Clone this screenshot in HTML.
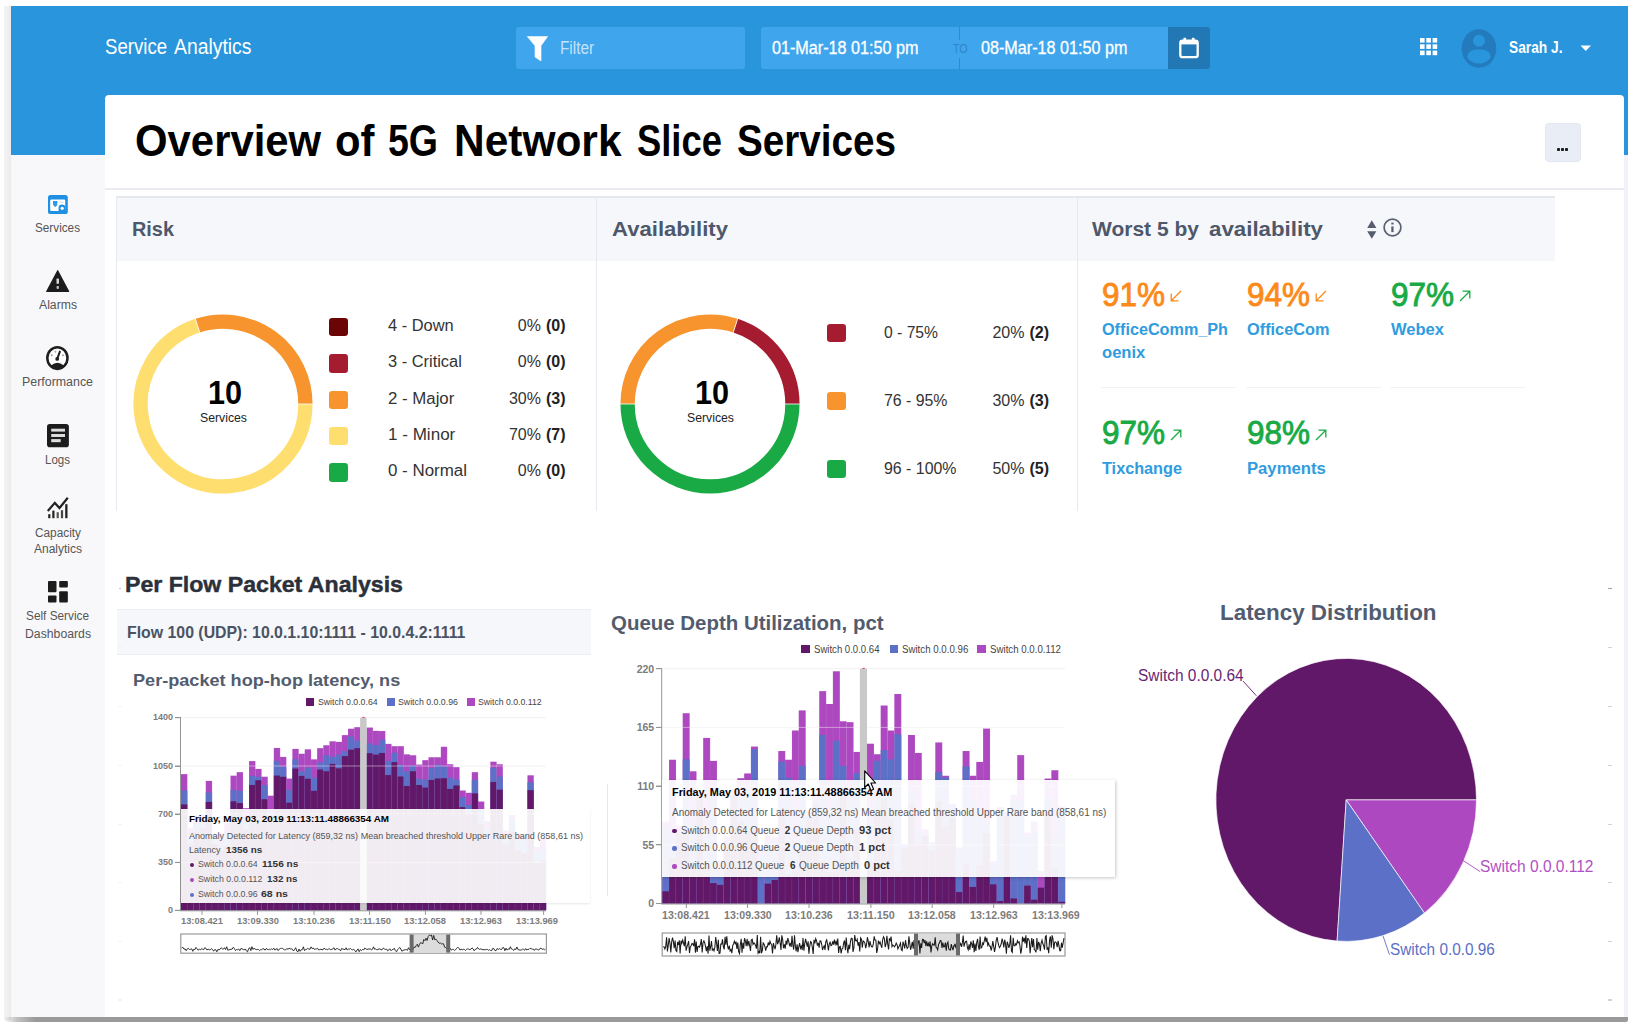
<!DOCTYPE html>
<html><head><meta charset="utf-8"><title>Service Analytics</title>
<style>
html,body{margin:0;padding:0;background:#fff;}
body{width:1638px;height:1030px;position:relative;overflow:hidden;font-family:"Liberation Sans",sans-serif;}
.t{position:absolute;white-space:nowrap;transform-origin:0 50%;}
.b{position:absolute;}
svg{position:absolute;overflow:visible;}
</style></head><body>
<div class="b" style="left:4.20px;top:6.00px;width:6.80px;height:1014.00px;background:linear-gradient(to right,#f3f3f3 0%,#f0f0f0 60%,#e9e9eb 100%);"></div>
<div class="b" style="left:11.00px;top:6.00px;width:1617.00px;height:148.50px;background:#2995dc;"></div>
<div class="b" style="left:11.00px;top:154.50px;width:94.00px;height:863.50px;background:#f8f8fa;"></div>
<div class="b" style="left:1624.00px;top:155.00px;width:4.00px;height:863.00px;background:#f3f2fa;"></div>
<div class="b" style="left:105.00px;top:95.00px;width:1519.00px;height:923.00px;background:#fff;border-radius:4px 4px 0 0;"></div>
<div class="b" style="left:5.00px;top:1017.30px;width:1623.00px;height:4.40px;background:linear-gradient(to right,rgba(154,154,154,0.08) 0px,rgba(154,154,154,0.6) 12px,#9a9a9a 30px);border-radius:0 0 2px 2px;"></div>
<div class="t" style="left:105.40px;top:37.30px;font-size:21.5px;line-height:21.5px;color:#fff;transform:scaleX(0.8661);">Service</div>
<div class="t" style="left:173.60px;top:37.30px;font-size:21.5px;line-height:21.5px;color:#fff;transform:scaleX(0.9000);">Analytics</div>
<div class="b" style="left:516.00px;top:27.00px;width:229.00px;height:42.00px;background:#3fa6ed;border-radius:3px;"></div>
<svg style="left:526.8px;top:36.4px" width="21" height="26" viewBox="0 0 21 26"><path d="M0.3 0.6 H20.6 L14 9.8 V25 L8 21 V9.8 Z" fill="#fff" stroke="#fff" stroke-width="0.6" stroke-linejoin="round"/></svg>
<div class="t" style="left:559.60px;top:39.99px;font-size:17.5px;line-height:17.5px;color:#c4e2f9;transform:scaleX(0.8752);">Filter</div>
<div class="b" style="left:761.00px;top:27.00px;width:407.00px;height:42.00px;background:#3fa6ed;border-radius:3px 0 0 3px;"></div>
<div class="b" style="left:1168.00px;top:27.00px;width:42.00px;height:42.00px;background:#2277b5;border-radius:0 3px 3px 0;"></div>
<div class="b" style="left:958.50px;top:27.00px;width:1.00px;height:13.00px;background:#2f8ad0;"></div>
<div class="b" style="left:958.50px;top:58.00px;width:1.00px;height:11.00px;background:#2f8ad0;"></div>
<div class="t" style="left:771.80px;top:39.69px;font-size:17.5px;line-height:17.5px;color:#fff;transform:scaleX(0.9240);-webkit-text-stroke:0.3px #fff;">01-Mar-18 01:50 pm</div>
<div class="t" style="left:952.60px;top:43.34px;font-size:12px;line-height:12px;color:#2e84c6;transform:scaleX(0.8881);">TO</div>
<div class="t" style="left:980.80px;top:39.69px;font-size:17.5px;line-height:17.5px;color:#fff;transform:scaleX(0.9240);-webkit-text-stroke:0.3px #fff;">08-Mar-18 01:50 pm</div>
<svg style="left:1179px;top:36.5px" width="20" height="22" viewBox="0 0 20 22"><rect x="1.3" y="3.6" width="17.4" height="16.6" rx="2.2" fill="none" stroke="#fff" stroke-width="2.3"/><rect x="1.3" y="3.2" width="17.4" height="4.2" fill="#fff"/><rect x="4.4" y="0.8" width="2.7" height="4" rx="0.6" fill="#fff"/><rect x="12.9" y="0.8" width="2.7" height="4" rx="0.6" fill="#fff"/></svg>
<svg style="left:1420px;top:37.6px" width="18" height="18" viewBox="0 0 18 18"><rect x="0.0" y="0.0" width="4.6" height="4.6" fill="#fff"/><rect x="6.3" y="0.0" width="4.6" height="4.6" fill="#fff"/><rect x="12.6" y="0.0" width="4.6" height="4.6" fill="#fff"/><rect x="0.0" y="6.3" width="4.6" height="4.6" fill="#fff"/><rect x="6.3" y="6.3" width="4.6" height="4.6" fill="#fff"/><rect x="12.6" y="6.3" width="4.6" height="4.6" fill="#fff"/><rect x="0.0" y="12.6" width="4.6" height="4.6" fill="#fff"/><rect x="6.3" y="12.6" width="4.6" height="4.6" fill="#fff"/><rect x="12.6" y="12.6" width="4.6" height="4.6" fill="#fff"/></svg>
<svg style="left:1461px;top:28.5px" width="36" height="39" viewBox="0 0 36 39"><ellipse cx="18" cy="19.5" rx="17.3" ry="19.3" fill="#237bbd"/><circle cx="18" cy="11.8" r="6" fill="#2995dc"/><path d="M6.3 28.5 C6.3 22 12 20.6 18 20.6 S29.7 22 29.7 28.5 C27 32.6 23 34.6 18 34.6 S9 32.6 6.3 28.5Z" fill="#2995dc"/></svg>
<div class="t" style="left:1509.30px;top:38.81px;font-size:17px;line-height:17px;color:#fff;font-weight:bold;transform:scaleX(0.8090);">Sarah J.</div>
<svg style="left:1580px;top:45px" width="12" height="7" viewBox="0 0 12 7"><path d="M0.5 0.5 H11 L5.75 6Z" fill="#fff"/></svg>
<div class="t" style="left:135.30px;top:119.35px;font-size:44px;line-height:44px;color:#000;font-weight:bold;transform:scaleX(0.9515);">Overview</div>
<div class="t" style="left:334.50px;top:119.35px;font-size:44px;line-height:44px;color:#000;font-weight:bold;transform:scaleX(0.9500);">of</div>
<div class="t" style="left:387.50px;top:119.35px;font-size:44px;line-height:44px;color:#000;font-weight:bold;transform:scaleX(0.8529);">5G</div>
<div class="t" style="left:454.00px;top:119.35px;font-size:44px;line-height:44px;color:#000;font-weight:bold;transform:scaleX(0.9649);">Network</div>
<div class="t" style="left:637.00px;top:119.35px;font-size:44px;line-height:44px;color:#000;font-weight:bold;transform:scaleX(0.8264);">Slice</div>
<div class="t" style="left:736.60px;top:119.35px;font-size:44px;line-height:44px;color:#000;font-weight:bold;transform:scaleX(0.8787);">Services</div>
<div class="b" style="left:1544.80px;top:122.70px;width:35.80px;height:39.00px;background:#e9edf6;border-radius:4.5px;box-shadow:0 0 0 1px #e3e7f1 inset;"></div>
<div class="b" style="left:1556.90px;top:148.30px;width:3.10px;height:3.20px;background:#1c1c1c;border-radius:0.8px;"></div>
<div class="b" style="left:1561.10px;top:148.30px;width:3.10px;height:3.20px;background:#1c1c1c;border-radius:0.8px;"></div>
<div class="b" style="left:1565.30px;top:148.30px;width:3.10px;height:3.20px;background:#1c1c1c;border-radius:0.8px;"></div>
<div class="b" style="left:105.00px;top:188.00px;width:1519.00px;height:1.50px;background:#e9ebf1;"></div>
<svg style="left:47.9px;top:194.6px" width="19.8" height="19" viewBox="0 0 19.8 19"><rect x="0" y="0" width="19.8" height="19" rx="2.6" fill="#2090e2"/><rect x="2.2" y="4.4" width="15" height="11.6" rx="1" fill="#fff"/><path d="M5 6 H9.4 V9 Q9.4 11.2 7.2 12 Q5 11.2 5 9Z" fill="#2f9be6"/><rect x="10.8" y="6.6" width="5" height="1.4" fill="#d6eafa"/><path d="M10.6 16.2 V13 Q10.6 9.6 14 9.6 Q17.4 9.6 17.4 13 V16.2Z" fill="#2090e2"/><circle cx="14.2" cy="13.3" r="1.6" fill="#fff"/></svg>
<div class="t" style="left:35.00px;top:221.62px;font-size:12.5px;line-height:12.5px;color:#555;transform:scaleX(0.9387);">Services</div>
<svg style="left:46px;top:269.8px" width="23.4" height="22.2" viewBox="0 0 23.4 22.2"><path d="M11.7 0.7 L22.7 21.5 H0.7 Z" fill="#1c1c1c" stroke="#1c1c1c" stroke-width="1.2" stroke-linejoin="round"/><rect x="10.5" y="8.6" width="2.5" height="5.2" rx="0.6" fill="#d8d8d8"/><rect x="10.5" y="16" width="2.5" height="2.9" rx="0.8" fill="#bdbdbd"/></svg>
<div class="t" style="left:38.50px;top:299.12px;font-size:12.5px;line-height:12.5px;color:#555;transform:scaleX(0.9775);">Alarms</div>
<svg style="left:46.2px;top:346.4px" width="22.8" height="24.2" viewBox="0 0 22.8 24.2"><ellipse cx="11.4" cy="12.1" rx="10.1" ry="10.8" fill="#fff" stroke="#1e1e1e" stroke-width="2.5"/><path d="M2.6 17.5 Q3.6 19.6 5 19.4 Q11.4 14.2 17.8 19.4 Q19.2 19.6 20.2 17.5 Q17.5 23.4 11.4 23.4 Q5.3 23.4 2.6 17.5Z" fill="#1e1e1e"/><path d="M11.3 12.6 L13.9 5.6" stroke="#1e1e1e" stroke-width="2" stroke-linecap="round"/><circle cx="11.2" cy="12.9" r="1.9" fill="#1e1e1e"/><circle cx="5.8" cy="9.2" r="0.95" fill="#999"/><circle cx="9.4" cy="5.7" r="0.95" fill="#aaa"/><circle cx="17" cy="9.2" r="0.95" fill="#999"/></svg>
<div class="t" style="left:22.00px;top:376.42px;font-size:12.5px;line-height:12.5px;color:#555;transform:scaleX(0.9921);">Performance</div>
<svg style="left:46.7px;top:424.3px" width="21.9" height="23.3" viewBox="0 0 21.9 23.3"><rect x="0" y="0" width="21.9" height="23.3" rx="2.8" fill="#1c1c1c"/><rect x="4.2" y="4.7" width="13.8" height="2.9" fill="#dcdcdc"/><rect x="4.2" y="10" width="13.8" height="3" fill="#dcdcdc"/><rect x="4.2" y="15.1" width="9.5" height="3.1" fill="#dcdcdc"/></svg>
<div class="t" style="left:45.00px;top:454.12px;font-size:12.5px;line-height:12.5px;color:#555;transform:scaleX(0.9217);">Logs</div>
<svg style="left:47px;top:497px" width="22" height="22" viewBox="0 0 22 22"><path d="M0.8 14 L7.8 5.9 L12.5 11 L20.8 0.8" fill="none" stroke="#222" stroke-width="2.2" stroke-linejoin="miter"/><rect x="1.2" y="17.2" width="2.2" height="4" fill="#222"/><rect x="5.3" y="13.6" width="2.2" height="7.6" fill="#222"/><rect x="9.6" y="15.2" width="2.2" height="6" fill="#555"/><rect x="13.9" y="13.2" width="2.2" height="8" fill="#444"/><rect x="18.2" y="7.2" width="2.3" height="14" fill="#222"/></svg>
<div class="t" style="left:34.50px;top:526.52px;font-size:12.5px;line-height:12.5px;color:#555;transform:scaleX(0.9460);">Capacity</div>
<div class="t" style="left:33.50px;top:543.12px;font-size:12.5px;line-height:12.5px;color:#555;transform:scaleX(0.9600);">Analytics</div>
<svg style="left:47.9px;top:581.3px" width="19.9" height="21.4" viewBox="0 0 19.9 21.4"><rect x="0" y="0" width="8.5" height="11.2" rx="0.9" fill="#1c1c1c"/><rect x="11.2" y="0" width="8.65" height="6.4" rx="0.9" fill="#1c1c1c"/><rect x="0" y="14.4" width="8.5" height="7" rx="0.9" fill="#1c1c1c"/><rect x="11.2" y="10.3" width="8.65" height="11.1" rx="0.9" fill="#1c1c1c"/></svg>
<div class="t" style="left:26.00px;top:610.42px;font-size:12.5px;line-height:12.5px;color:#555;transform:scaleX(0.9447);">Self Service</div>
<div class="t" style="left:24.50px;top:627.92px;font-size:12.5px;line-height:12.5px;color:#555;transform:scaleX(0.9796);">Dashboards</div>
<div class="b" style="left:116.00px;top:196.50px;width:1439.00px;height:64.10px;background:#f5f7fa;"></div>
<div class="b" style="left:116.00px;top:196.20px;width:1439.00px;height:1.50px;background:#e5e8ee;"></div>
<div class="b" style="left:115.50px;top:196.50px;width:1.00px;height:314.50px;background:#e6e9f0;"></div>
<div class="b" style="left:595.50px;top:196.50px;width:1.00px;height:314.50px;background:#e6e9f0;"></div>
<div class="b" style="left:1076.50px;top:196.50px;width:1.00px;height:314.50px;background:#e6e9f0;"></div>
<div class="t" style="left:131.50px;top:218.42px;font-size:21px;line-height:21px;color:#4e586a;font-weight:bold;transform:scaleX(0.9456);">Risk</div>
<div class="t" style="left:611.50px;top:218.42px;font-size:21px;line-height:21px;color:#4e586a;font-weight:bold;transform:scaleX(1.0532);">Availability</div>
<div class="t" style="left:1092.00px;top:218.42px;font-size:21px;line-height:21px;color:#4e586a;font-weight:bold;">Worst 5 by</div>
<div class="t" style="left:1209.00px;top:218.42px;font-size:21px;line-height:21px;color:#4e586a;font-weight:bold;transform:scaleX(1.0613);">availability</div>
<svg style="left:1366.8px;top:220px" width="10" height="19" viewBox="0 0 10 19"><path d="M4.8 0.3 L9.4 7.9 H0.2Z M4.8 18.7 L9.4 11.2 H0.2Z" fill="#555d6e"/></svg>
<svg style="left:1383px;top:218px" width="19" height="19" viewBox="0 0 19 19"><circle cx="9.5" cy="9.5" r="8.4" fill="none" stroke="#5a6172" stroke-width="1.7"/><rect x="8.3" y="8.4" width="2.3" height="5.7" fill="#5a6172"/><rect x="8.3" y="4.6" width="2.3" height="1.9" fill="#5a6172"/></svg>
<svg style="left:0;top:0" width="1638" height="1030"><path d="M197.54 325.63 A82.4 82.4 0 0 1 305.40 404.00" fill="none" stroke="#f7942e" stroke-width="14.3"/><path d="M305.40 404.00 A82.4 82.4 0 1 1 197.54 325.63" fill="none" stroke="#fede6e" stroke-width="14.3"/><line x1="200.01" y1="333.24" x2="195.06" y2="318.02" stroke="#fff" stroke-width="0.8"/><line x1="297.40" y1="404.00" x2="313.40" y2="404.00" stroke="#fff" stroke-width="0.8"/></svg>
<div class="t" style="left:207.50px;top:375.57px;font-size:33px;line-height:33px;color:#000;font-weight:bold;transform:scaleX(0.9282);">10</div>
<div class="t" style="left:200.30px;top:410.50px;font-size:13px;line-height:13px;color:#222;transform:scaleX(0.9427);">Services</div>
<svg style="left:0;top:0" width="1638" height="1030"><path d="M735.46 325.63 A82.4 82.4 0 0 1 792.40 404.00" fill="none" stroke="#a51c30" stroke-width="14.3"/><path d="M627.60 404.00 A82.4 82.4 0 0 1 735.46 325.63" fill="none" stroke="#f7942e" stroke-width="14.3"/><path d="M792.40 404.00 A82.4 82.4 0 0 1 627.60 404.00" fill="none" stroke="#1aaa45" stroke-width="14.3"/><line x1="732.99" y1="333.24" x2="737.94" y2="318.02" stroke="#fff" stroke-width="0.8"/><line x1="635.60" y1="404.00" x2="619.60" y2="404.00" stroke="#fff" stroke-width="0.8"/><line x1="784.40" y1="404.00" x2="800.40" y2="404.00" stroke="#fff" stroke-width="0.8"/></svg>
<div class="t" style="left:694.50px;top:375.57px;font-size:33px;line-height:33px;color:#000;font-weight:bold;transform:scaleX(0.9282);">10</div>
<div class="t" style="left:687.30px;top:410.50px;font-size:13px;line-height:13px;color:#222;transform:scaleX(0.9427);">Services</div>
<div class="b" style="left:329.10px;top:317.80px;width:18.50px;height:18.50px;background:#6b0505;border-radius:3.2px;"></div>
<div class="t" style="left:387.50px;top:317.96px;font-size:16px;line-height:16px;color:#333;transform:scaleX(1.0250);">4 - Down</div>
<div class="t" style="left:545.94px;top:317.96px;font-size:16px;line-height:16px;color:#222;font-weight:bold;">(0)</div>
<div class="t" style="left:517.82px;top:317.96px;font-size:16px;line-height:16px;color:#333;">0%</div>
<div class="b" style="left:329.10px;top:354.30px;width:18.50px;height:18.50px;background:#a51c30;border-radius:3.2px;"></div>
<div class="t" style="left:387.50px;top:354.46px;font-size:16px;line-height:16px;color:#333;transform:scaleX(1.0250);">3 - Critical</div>
<div class="t" style="left:545.94px;top:354.46px;font-size:16px;line-height:16px;color:#222;font-weight:bold;">(0)</div>
<div class="t" style="left:517.82px;top:354.46px;font-size:16px;line-height:16px;color:#333;">0%</div>
<div class="b" style="left:329.10px;top:390.80px;width:18.50px;height:18.50px;background:#f7942e;border-radius:3.2px;"></div>
<div class="t" style="left:387.50px;top:390.96px;font-size:16px;line-height:16px;color:#333;transform:scaleX(1.0504);">2 - Major</div>
<div class="t" style="left:545.94px;top:390.96px;font-size:16px;line-height:16px;color:#222;font-weight:bold;">(3)</div>
<div class="t" style="left:508.92px;top:390.96px;font-size:16px;line-height:16px;color:#333;">30%</div>
<div class="b" style="left:329.10px;top:426.80px;width:18.50px;height:18.50px;background:#fede6e;border-radius:3.2px;"></div>
<div class="t" style="left:387.50px;top:426.96px;font-size:16px;line-height:16px;color:#333;transform:scaleX(1.0662);">1 - Minor</div>
<div class="t" style="left:545.94px;top:426.96px;font-size:16px;line-height:16px;color:#222;font-weight:bold;">(7)</div>
<div class="t" style="left:508.92px;top:426.96px;font-size:16px;line-height:16px;color:#333;">70%</div>
<div class="b" style="left:329.10px;top:463.30px;width:18.50px;height:18.50px;background:#1aaa45;border-radius:3.2px;"></div>
<div class="t" style="left:387.50px;top:463.46px;font-size:16px;line-height:16px;color:#333;transform:scaleX(1.0573);">0 - Normal</div>
<div class="t" style="left:545.94px;top:463.46px;font-size:16px;line-height:16px;color:#222;font-weight:bold;">(0)</div>
<div class="t" style="left:517.82px;top:463.46px;font-size:16px;line-height:16px;color:#333;">0%</div>
<div class="b" style="left:827.20px;top:323.80px;width:18.50px;height:18.50px;background:#a51c30;border-radius:3.2px;"></div>
<div class="t" style="left:883.50px;top:325.26px;font-size:16px;line-height:16px;color:#333;transform:scaleX(0.9797);">0 - 75%</div>
<div class="t" style="left:1029.44px;top:325.26px;font-size:16px;line-height:16px;color:#222;font-weight:bold;">(2)</div>
<div class="t" style="left:992.42px;top:325.26px;font-size:16px;line-height:16px;color:#333;">20%</div>
<div class="b" style="left:827.20px;top:391.80px;width:18.50px;height:18.50px;background:#f7942e;border-radius:3.2px;"></div>
<div class="t" style="left:883.50px;top:393.26px;font-size:16px;line-height:16px;color:#333;transform:scaleX(0.9909);">76 - 95%</div>
<div class="t" style="left:1029.44px;top:393.26px;font-size:16px;line-height:16px;color:#222;font-weight:bold;">(3)</div>
<div class="t" style="left:992.42px;top:393.26px;font-size:16px;line-height:16px;color:#333;">30%</div>
<div class="b" style="left:827.20px;top:459.80px;width:18.50px;height:18.50px;background:#1aaa45;border-radius:3.2px;"></div>
<div class="t" style="left:883.50px;top:461.26px;font-size:16px;line-height:16px;color:#333;transform:scaleX(0.9937);">96 - 100%</div>
<div class="t" style="left:1029.44px;top:461.26px;font-size:16px;line-height:16px;color:#222;font-weight:bold;">(5)</div>
<div class="t" style="left:992.42px;top:461.26px;font-size:16px;line-height:16px;color:#333;">50%</div>
<div class="t" style="left:1101.80px;top:277.67px;font-size:33px;line-height:33px;color:#fb8a1a;transform:scaleX(0.9545);-webkit-text-stroke:0.9px #fb8a1a;">91%</div>
<svg style="left:1169.8px;top:290.1px" width="12" height="12" viewBox="0 0 12 12"><path d="M11 1 L1.5 10.5 M1.2 3.5 V10.8 H8.5" fill="none" stroke="#fb8a1a" stroke-width="1.3"/></svg>
<div class="t" style="left:1101.80px;top:322.46px;font-size:16px;line-height:16px;color:#2f9ce0;font-weight:bold;transform:scaleX(1.0122);">OfficeComm_Ph</div>
<div class="t" style="left:1101.80px;top:345.46px;font-size:16px;line-height:16px;color:#2f9ce0;font-weight:bold;transform:scaleX(1.0369);">oenix</div>
<div class="t" style="left:1246.50px;top:277.67px;font-size:33px;line-height:33px;color:#fb8a1a;transform:scaleX(0.9545);-webkit-text-stroke:0.9px #fb8a1a;">94%</div>
<svg style="left:1314.5px;top:290.1px" width="12" height="12" viewBox="0 0 12 12"><path d="M11 1 L1.5 10.5 M1.2 3.5 V10.8 H8.5" fill="none" stroke="#fb8a1a" stroke-width="1.3"/></svg>
<div class="t" style="left:1246.50px;top:322.46px;font-size:16px;line-height:16px;color:#2f9ce0;font-weight:bold;transform:scaleX(1.0200);">OfficeCom</div>
<div class="t" style="left:1390.80px;top:277.67px;font-size:33px;line-height:33px;color:#1aaa45;transform:scaleX(0.9545);-webkit-text-stroke:0.9px #1aaa45;">97%</div>
<svg style="left:1458.8px;top:290.1px" width="12" height="12" viewBox="0 0 12 12"><path d="M1 11 L10.5 1.5 M3.5 1.2 H10.8 V8.5" fill="none" stroke="#1aaa45" stroke-width="1.3"/></svg>
<div class="t" style="left:1390.80px;top:322.46px;font-size:16px;line-height:16px;color:#2f9ce0;font-weight:bold;transform:scaleX(1.0335);">Webex</div>
<div class="t" style="left:1101.80px;top:416.17px;font-size:33px;line-height:33px;color:#1aaa45;transform:scaleX(0.9545);-webkit-text-stroke:0.9px #1aaa45;">97%</div>
<svg style="left:1169.8px;top:428.6px" width="12" height="12" viewBox="0 0 12 12"><path d="M1 11 L10.5 1.5 M3.5 1.2 H10.8 V8.5" fill="none" stroke="#1aaa45" stroke-width="1.3"/></svg>
<div class="t" style="left:1101.80px;top:460.96px;font-size:16px;line-height:16px;color:#2f9ce0;font-weight:bold;transform:scaleX(1.0142);">Tixchange</div>
<div class="t" style="left:1246.50px;top:416.17px;font-size:33px;line-height:33px;color:#1aaa45;transform:scaleX(0.9545);-webkit-text-stroke:0.9px #1aaa45;">98%</div>
<svg style="left:1314.5px;top:428.6px" width="12" height="12" viewBox="0 0 12 12"><path d="M1 11 L10.5 1.5 M3.5 1.2 H10.8 V8.5" fill="none" stroke="#1aaa45" stroke-width="1.3"/></svg>
<div class="t" style="left:1246.50px;top:460.96px;font-size:16px;line-height:16px;color:#2f9ce0;font-weight:bold;transform:scaleX(1.0410);">Payments</div>
<div class="b" style="left:1101.00px;top:386.50px;width:135.00px;height:1.00px;background:#f2f3f6;"></div>
<div class="b" style="left:1246.00px;top:386.50px;width:135.00px;height:1.00px;background:#f2f3f6;"></div>
<div class="b" style="left:1390.00px;top:386.50px;width:135.00px;height:1.00px;background:#f2f3f6;"></div>
<div class="t" style="left:125.30px;top:573.72px;font-size:22.3px;line-height:22.3px;color:#2b303b;font-weight:bold;transform:scaleX(1.0367);-webkit-text-stroke:0.45px #2b303b;">Per Flow Packet Analysis</div>
<div class="b" style="left:117.00px;top:609.00px;width:473.50px;height:45.50px;background:#f5f7fa;"></div>
<div class="b" style="left:117.00px;top:609.00px;width:473.50px;height:1.00px;background:#eceef3;"></div>
<div class="b" style="left:117.00px;top:654.00px;width:473.50px;height:1.00px;background:#eceef3;"></div>
<div class="t" style="left:127.30px;top:623.91px;font-size:17px;line-height:17px;color:#4a5363;font-weight:bold;transform:scaleX(0.9326);">Flow 100 (UDP): 10.0.1.10:1111 - 10.0.4.2:1111</div>
<div class="t" style="left:133.40px;top:671.56px;font-size:17.3px;line-height:17.3px;color:#525c6e;font-weight:bold;transform:scaleX(1.0476);">Per-packet hop-hop latency, ns</div>
<div class="t" style="left:610.60px;top:612.77px;font-size:20px;line-height:20px;color:#525c6e;font-weight:bold;transform:scaleX(1.0221);">Queue Depth Utilization, pct</div>
<div class="t" style="left:1220.00px;top:601.58px;font-size:22px;line-height:22px;color:#525c6e;font-weight:bold;transform:scaleX(1.0181);">Latency Distribution</div>
<svg style="left:0;top:0" width="1638" height="1030"><line x1="181" y1="717.70" x2="546" y2="717.70" stroke="#f0f0f0" stroke-width="1"/><line x1="181" y1="766.00" x2="546" y2="766.00" stroke="#f0f0f0" stroke-width="1"/><line x1="181" y1="814.00" x2="546" y2="814.00" stroke="#f0f0f0" stroke-width="1"/><line x1="181" y1="862.40" x2="546" y2="862.40" stroke="#f0f0f0" stroke-width="1"/><rect x="181.00" y="774.15" width="6.34" height="136.15" fill="#ad48c0"/><rect x="181.00" y="790.46" width="6.34" height="119.84" fill="#5b70c6"/><rect x="181.00" y="804.44" width="6.34" height="105.86" fill="#611868"/><rect x="187.19" y="828.19" width="6.34" height="82.11" fill="#ad48c0"/><rect x="187.19" y="833.40" width="6.34" height="76.90" fill="#5b70c6"/><rect x="187.19" y="844.26" width="6.34" height="66.04" fill="#611868"/><rect x="193.37" y="815.62" width="6.34" height="94.68" fill="#ad48c0"/><rect x="193.37" y="823.91" width="6.34" height="86.39" fill="#5b70c6"/><rect x="193.37" y="832.20" width="6.34" height="78.10" fill="#611868"/><rect x="199.56" y="814.90" width="6.34" height="95.40" fill="#ad48c0"/><rect x="199.56" y="822.96" width="6.34" height="87.34" fill="#5b70c6"/><rect x="199.56" y="828.30" width="6.34" height="82.00" fill="#611868"/><rect x="205.75" y="780.91" width="6.34" height="129.39" fill="#ad48c0"/><rect x="205.75" y="792.56" width="6.34" height="117.74" fill="#5b70c6"/><rect x="205.75" y="801.88" width="6.34" height="108.42" fill="#611868"/><rect x="211.93" y="833.68" width="6.34" height="76.62" fill="#ad48c0"/><rect x="211.93" y="838.24" width="6.34" height="72.06" fill="#5b70c6"/><rect x="211.93" y="844.06" width="6.34" height="66.24" fill="#611868"/><rect x="218.12" y="833.23" width="6.34" height="77.07" fill="#ad48c0"/><rect x="218.12" y="843.84" width="6.34" height="66.46" fill="#5b70c6"/><rect x="218.12" y="849.95" width="6.34" height="60.35" fill="#611868"/><rect x="224.31" y="823.16" width="6.34" height="87.14" fill="#ad48c0"/><rect x="224.31" y="832.18" width="6.34" height="78.12" fill="#5b70c6"/><rect x="224.31" y="845.71" width="6.34" height="64.59" fill="#611868"/><rect x="230.49" y="775.66" width="6.34" height="134.64" fill="#ad48c0"/><rect x="230.49" y="789.88" width="6.34" height="120.42" fill="#5b70c6"/><rect x="230.49" y="801.29" width="6.34" height="109.01" fill="#611868"/><rect x="236.68" y="772.17" width="6.34" height="138.13" fill="#ad48c0"/><rect x="236.68" y="790.81" width="6.34" height="119.49" fill="#5b70c6"/><rect x="236.68" y="803.04" width="6.34" height="107.26" fill="#611868"/><rect x="242.86" y="808.17" width="6.34" height="102.13" fill="#ad48c0"/><rect x="242.86" y="818.78" width="6.34" height="91.52" fill="#5b70c6"/><rect x="242.86" y="829.96" width="6.34" height="80.34" fill="#611868"/><rect x="249.05" y="761.10" width="6.34" height="149.20" fill="#ad48c0"/><rect x="249.05" y="775.90" width="6.34" height="134.40" fill="#5b70c6"/><rect x="249.05" y="784.98" width="6.34" height="125.32" fill="#611868"/><rect x="255.24" y="768.91" width="6.34" height="141.39" fill="#ad48c0"/><rect x="255.24" y="776.83" width="6.34" height="133.47" fill="#5b70c6"/><rect x="255.24" y="780.21" width="6.34" height="130.09" fill="#611868"/><rect x="261.42" y="776.71" width="6.34" height="133.59" fill="#ad48c0"/><rect x="261.42" y="785.22" width="6.34" height="125.08" fill="#5b70c6"/><rect x="261.42" y="799.20" width="6.34" height="111.10" fill="#611868"/><rect x="267.61" y="795.70" width="6.34" height="114.60" fill="#ad48c0"/><rect x="267.61" y="809.51" width="6.34" height="100.79" fill="#5b70c6"/><rect x="267.61" y="817.88" width="6.34" height="92.42" fill="#611868"/><rect x="273.80" y="747.94" width="6.34" height="162.36" fill="#ad48c0"/><rect x="273.80" y="760.99" width="6.34" height="149.31" fill="#5b70c6"/><rect x="273.80" y="775.55" width="6.34" height="134.75" fill="#611868"/><rect x="279.98" y="756.91" width="6.34" height="153.39" fill="#ad48c0"/><rect x="279.98" y="766.58" width="6.34" height="143.72" fill="#5b70c6"/><rect x="279.98" y="776.83" width="6.34" height="133.47" fill="#611868"/><rect x="286.17" y="778.58" width="6.34" height="131.72" fill="#ad48c0"/><rect x="286.17" y="789.88" width="6.34" height="120.42" fill="#5b70c6"/><rect x="286.17" y="802.69" width="6.34" height="107.61" fill="#611868"/><rect x="292.36" y="748.87" width="6.34" height="161.43" fill="#ad48c0"/><rect x="292.36" y="759.36" width="6.34" height="150.94" fill="#5b70c6"/><rect x="292.36" y="768.56" width="6.34" height="141.74" fill="#611868"/><rect x="298.54" y="753.76" width="6.34" height="156.54" fill="#ad48c0"/><rect x="298.54" y="771.24" width="6.34" height="139.06" fill="#5b70c6"/><rect x="298.54" y="775.90" width="6.34" height="134.40" fill="#611868"/><rect x="304.73" y="749.34" width="6.34" height="160.96" fill="#ad48c0"/><rect x="304.73" y="767.51" width="6.34" height="142.79" fill="#5b70c6"/><rect x="304.73" y="778.81" width="6.34" height="131.49" fill="#611868"/><rect x="310.92" y="759.36" width="6.34" height="150.94" fill="#ad48c0"/><rect x="310.92" y="777.64" width="6.34" height="132.66" fill="#5b70c6"/><rect x="310.92" y="790.81" width="6.34" height="119.49" fill="#611868"/><rect x="317.10" y="748.17" width="6.34" height="162.13" fill="#ad48c0"/><rect x="317.10" y="762.50" width="6.34" height="147.80" fill="#5b70c6"/><rect x="317.10" y="769.49" width="6.34" height="140.81" fill="#611868"/><rect x="323.29" y="745.26" width="6.34" height="165.04" fill="#ad48c0"/><rect x="323.29" y="755.16" width="6.34" height="155.14" fill="#5b70c6"/><rect x="323.29" y="771.24" width="6.34" height="139.06" fill="#611868"/><rect x="329.47" y="741.30" width="6.34" height="169.00" fill="#ad48c0"/><rect x="329.47" y="756.91" width="6.34" height="153.39" fill="#5b70c6"/><rect x="329.47" y="763.90" width="6.34" height="146.40" fill="#611868"/><rect x="335.66" y="741.88" width="6.34" height="168.42" fill="#ad48c0"/><rect x="335.66" y="754.58" width="6.34" height="155.72" fill="#5b70c6"/><rect x="335.66" y="768.33" width="6.34" height="141.97" fill="#611868"/><rect x="341.85" y="735.12" width="6.34" height="175.18" fill="#ad48c0"/><rect x="341.85" y="751.20" width="6.34" height="159.10" fill="#5b70c6"/><rect x="341.85" y="756.09" width="6.34" height="154.21" fill="#611868"/><rect x="348.03" y="728.72" width="6.34" height="181.58" fill="#ad48c0"/><rect x="348.03" y="736.52" width="6.34" height="173.78" fill="#5b70c6"/><rect x="348.03" y="749.69" width="6.34" height="160.61" fill="#611868"/><rect x="354.22" y="727.20" width="6.34" height="183.10" fill="#ad48c0"/><rect x="354.22" y="740.60" width="6.34" height="169.70" fill="#5b70c6"/><rect x="354.22" y="748.17" width="6.34" height="162.13" fill="#611868"/><rect x="366.59" y="727.55" width="6.34" height="182.75" fill="#ad48c0"/><rect x="366.59" y="743.51" width="6.34" height="166.79" fill="#5b70c6"/><rect x="366.59" y="753.18" width="6.34" height="157.12" fill="#611868"/><rect x="372.78" y="730.81" width="6.34" height="179.49" fill="#ad48c0"/><rect x="372.78" y="745.03" width="6.34" height="165.27" fill="#5b70c6"/><rect x="372.78" y="754.58" width="6.34" height="155.72" fill="#611868"/><rect x="378.97" y="731.05" width="6.34" height="179.25" fill="#ad48c0"/><rect x="378.97" y="739.78" width="6.34" height="170.52" fill="#5b70c6"/><rect x="378.97" y="752.95" width="6.34" height="157.35" fill="#611868"/><rect x="385.15" y="743.86" width="6.34" height="166.44" fill="#ad48c0"/><rect x="385.15" y="760.99" width="6.34" height="149.31" fill="#5b70c6"/><rect x="385.15" y="775.08" width="6.34" height="135.22" fill="#611868"/><rect x="391.34" y="746.19" width="6.34" height="164.11" fill="#ad48c0"/><rect x="391.34" y="752.83" width="6.34" height="157.47" fill="#5b70c6"/><rect x="391.34" y="762.15" width="6.34" height="148.15" fill="#611868"/><rect x="397.53" y="746.19" width="6.34" height="164.11" fill="#ad48c0"/><rect x="397.53" y="764.83" width="6.34" height="145.47" fill="#5b70c6"/><rect x="397.53" y="776.48" width="6.34" height="133.82" fill="#611868"/><rect x="403.71" y="754.35" width="6.34" height="155.95" fill="#ad48c0"/><rect x="403.71" y="771.24" width="6.34" height="139.06" fill="#5b70c6"/><rect x="403.71" y="786.03" width="6.34" height="124.27" fill="#611868"/><rect x="409.90" y="755.28" width="6.34" height="155.02" fill="#ad48c0"/><rect x="409.90" y="765.65" width="6.34" height="144.65" fill="#5b70c6"/><rect x="409.90" y="771.24" width="6.34" height="139.06" fill="#611868"/><rect x="416.08" y="764.60" width="6.34" height="145.70" fill="#ad48c0"/><rect x="416.08" y="778.81" width="6.34" height="131.49" fill="#5b70c6"/><rect x="416.08" y="784.98" width="6.34" height="125.32" fill="#611868"/><rect x="422.27" y="760.17" width="6.34" height="150.13" fill="#ad48c0"/><rect x="422.27" y="779.39" width="6.34" height="130.91" fill="#5b70c6"/><rect x="422.27" y="787.55" width="6.34" height="122.75" fill="#611868"/><rect x="428.46" y="757.26" width="6.34" height="153.04" fill="#ad48c0"/><rect x="428.46" y="767.98" width="6.34" height="142.32" fill="#5b70c6"/><rect x="428.46" y="779.97" width="6.34" height="130.33" fill="#611868"/><rect x="434.64" y="757.26" width="6.34" height="153.04" fill="#ad48c0"/><rect x="434.64" y="764.83" width="6.34" height="145.47" fill="#5b70c6"/><rect x="434.64" y="778.46" width="6.34" height="131.84" fill="#611868"/><rect x="440.83" y="746.77" width="6.34" height="163.53" fill="#ad48c0"/><rect x="440.83" y="766.58" width="6.34" height="143.72" fill="#5b70c6"/><rect x="440.83" y="778.23" width="6.34" height="132.07" fill="#611868"/><rect x="447.02" y="764.25" width="6.34" height="146.05" fill="#ad48c0"/><rect x="447.02" y="777.64" width="6.34" height="132.66" fill="#5b70c6"/><rect x="447.02" y="788.95" width="6.34" height="121.35" fill="#611868"/><rect x="453.20" y="767.16" width="6.34" height="143.14" fill="#ad48c0"/><rect x="453.20" y="779.63" width="6.34" height="130.67" fill="#5b70c6"/><rect x="453.20" y="785.45" width="6.34" height="124.85" fill="#611868"/><rect x="459.39" y="790.46" width="6.34" height="119.84" fill="#ad48c0"/><rect x="459.39" y="797.22" width="6.34" height="113.08" fill="#5b70c6"/><rect x="459.39" y="807.12" width="6.34" height="103.18" fill="#611868"/><rect x="465.58" y="792.79" width="6.34" height="117.51" fill="#ad48c0"/><rect x="465.58" y="805.02" width="6.34" height="105.28" fill="#5b70c6"/><rect x="465.58" y="813.96" width="6.34" height="96.34" fill="#611868"/><rect x="471.76" y="772.17" width="6.34" height="138.13" fill="#ad48c0"/><rect x="471.76" y="779.97" width="6.34" height="130.33" fill="#5b70c6"/><rect x="471.76" y="793.37" width="6.34" height="116.93" fill="#611868"/><rect x="477.95" y="801.53" width="6.34" height="108.77" fill="#ad48c0"/><rect x="477.95" y="809.99" width="6.34" height="100.31" fill="#5b70c6"/><rect x="477.95" y="824.52" width="6.34" height="85.78" fill="#611868"/><rect x="484.14" y="821.04" width="6.34" height="89.26" fill="#ad48c0"/><rect x="484.14" y="829.69" width="6.34" height="80.61" fill="#5b70c6"/><rect x="484.14" y="840.44" width="6.34" height="69.86" fill="#611868"/><rect x="490.32" y="761.68" width="6.34" height="148.62" fill="#ad48c0"/><rect x="490.32" y="767.74" width="6.34" height="142.56" fill="#5b70c6"/><rect x="490.32" y="781.96" width="6.34" height="128.34" fill="#611868"/><rect x="496.51" y="764.25" width="6.34" height="146.05" fill="#ad48c0"/><rect x="496.51" y="776.48" width="6.34" height="133.82" fill="#5b70c6"/><rect x="496.51" y="789.64" width="6.34" height="120.66" fill="#611868"/><rect x="502.69" y="830.62" width="6.34" height="79.68" fill="#ad48c0"/><rect x="502.69" y="839.00" width="6.34" height="71.30" fill="#5b70c6"/><rect x="502.69" y="844.57" width="6.34" height="65.73" fill="#611868"/><rect x="508.88" y="814.98" width="6.34" height="95.32" fill="#ad48c0"/><rect x="508.88" y="820.63" width="6.34" height="89.67" fill="#5b70c6"/><rect x="508.88" y="831.75" width="6.34" height="78.55" fill="#611868"/><rect x="515.07" y="833.38" width="6.34" height="76.92" fill="#ad48c0"/><rect x="515.07" y="839.89" width="6.34" height="70.41" fill="#5b70c6"/><rect x="515.07" y="850.16" width="6.34" height="60.14" fill="#611868"/><rect x="521.25" y="834.66" width="6.34" height="75.64" fill="#ad48c0"/><rect x="521.25" y="841.06" width="6.34" height="69.24" fill="#5b70c6"/><rect x="521.25" y="853.21" width="6.34" height="57.09" fill="#611868"/><rect x="527.44" y="775.32" width="6.34" height="134.98" fill="#ad48c0"/><rect x="527.44" y="782.30" width="6.34" height="128.00" fill="#5b70c6"/><rect x="527.44" y="790.11" width="6.34" height="120.19" fill="#611868"/><rect x="533.63" y="846.95" width="6.34" height="63.35" fill="#ad48c0"/><rect x="533.63" y="852.90" width="6.34" height="57.40" fill="#5b70c6"/><rect x="533.63" y="863.07" width="6.34" height="47.23" fill="#611868"/><rect x="539.81" y="838.26" width="6.34" height="72.04" fill="#ad48c0"/><rect x="539.81" y="849.26" width="6.34" height="61.04" fill="#5b70c6"/><rect x="539.81" y="860.83" width="6.34" height="49.47" fill="#611868"/><line x1="187.19" y1="717.7" x2="187.19" y2="910.3" stroke="#fff" stroke-opacity="0.10" stroke-width="0.6"/><line x1="193.37" y1="717.7" x2="193.37" y2="910.3" stroke="#fff" stroke-opacity="0.10" stroke-width="0.6"/><line x1="199.56" y1="717.7" x2="199.56" y2="910.3" stroke="#fff" stroke-opacity="0.10" stroke-width="0.6"/><line x1="205.75" y1="717.7" x2="205.75" y2="910.3" stroke="#fff" stroke-opacity="0.10" stroke-width="0.6"/><line x1="211.93" y1="717.7" x2="211.93" y2="910.3" stroke="#fff" stroke-opacity="0.10" stroke-width="0.6"/><line x1="218.12" y1="717.7" x2="218.12" y2="910.3" stroke="#fff" stroke-opacity="0.10" stroke-width="0.6"/><line x1="224.31" y1="717.7" x2="224.31" y2="910.3" stroke="#fff" stroke-opacity="0.10" stroke-width="0.6"/><line x1="230.49" y1="717.7" x2="230.49" y2="910.3" stroke="#fff" stroke-opacity="0.10" stroke-width="0.6"/><line x1="236.68" y1="717.7" x2="236.68" y2="910.3" stroke="#fff" stroke-opacity="0.10" stroke-width="0.6"/><line x1="242.86" y1="717.7" x2="242.86" y2="910.3" stroke="#fff" stroke-opacity="0.10" stroke-width="0.6"/><line x1="249.05" y1="717.7" x2="249.05" y2="910.3" stroke="#fff" stroke-opacity="0.10" stroke-width="0.6"/><line x1="255.24" y1="717.7" x2="255.24" y2="910.3" stroke="#fff" stroke-opacity="0.10" stroke-width="0.6"/><line x1="261.42" y1="717.7" x2="261.42" y2="910.3" stroke="#fff" stroke-opacity="0.10" stroke-width="0.6"/><line x1="267.61" y1="717.7" x2="267.61" y2="910.3" stroke="#fff" stroke-opacity="0.10" stroke-width="0.6"/><line x1="273.80" y1="717.7" x2="273.80" y2="910.3" stroke="#fff" stroke-opacity="0.10" stroke-width="0.6"/><line x1="279.98" y1="717.7" x2="279.98" y2="910.3" stroke="#fff" stroke-opacity="0.10" stroke-width="0.6"/><line x1="286.17" y1="717.7" x2="286.17" y2="910.3" stroke="#fff" stroke-opacity="0.10" stroke-width="0.6"/><line x1="292.36" y1="717.7" x2="292.36" y2="910.3" stroke="#fff" stroke-opacity="0.10" stroke-width="0.6"/><line x1="298.54" y1="717.7" x2="298.54" y2="910.3" stroke="#fff" stroke-opacity="0.10" stroke-width="0.6"/><line x1="304.73" y1="717.7" x2="304.73" y2="910.3" stroke="#fff" stroke-opacity="0.10" stroke-width="0.6"/><line x1="310.92" y1="717.7" x2="310.92" y2="910.3" stroke="#fff" stroke-opacity="0.10" stroke-width="0.6"/><line x1="317.10" y1="717.7" x2="317.10" y2="910.3" stroke="#fff" stroke-opacity="0.10" stroke-width="0.6"/><line x1="323.29" y1="717.7" x2="323.29" y2="910.3" stroke="#fff" stroke-opacity="0.10" stroke-width="0.6"/><line x1="329.47" y1="717.7" x2="329.47" y2="910.3" stroke="#fff" stroke-opacity="0.10" stroke-width="0.6"/><line x1="335.66" y1="717.7" x2="335.66" y2="910.3" stroke="#fff" stroke-opacity="0.10" stroke-width="0.6"/><line x1="341.85" y1="717.7" x2="341.85" y2="910.3" stroke="#fff" stroke-opacity="0.10" stroke-width="0.6"/><line x1="348.03" y1="717.7" x2="348.03" y2="910.3" stroke="#fff" stroke-opacity="0.10" stroke-width="0.6"/><line x1="354.22" y1="717.7" x2="354.22" y2="910.3" stroke="#fff" stroke-opacity="0.10" stroke-width="0.6"/><line x1="360.41" y1="717.7" x2="360.41" y2="910.3" stroke="#fff" stroke-opacity="0.10" stroke-width="0.6"/><line x1="366.59" y1="717.7" x2="366.59" y2="910.3" stroke="#fff" stroke-opacity="0.10" stroke-width="0.6"/><line x1="372.78" y1="717.7" x2="372.78" y2="910.3" stroke="#fff" stroke-opacity="0.10" stroke-width="0.6"/><line x1="378.97" y1="717.7" x2="378.97" y2="910.3" stroke="#fff" stroke-opacity="0.10" stroke-width="0.6"/><line x1="385.15" y1="717.7" x2="385.15" y2="910.3" stroke="#fff" stroke-opacity="0.10" stroke-width="0.6"/><line x1="391.34" y1="717.7" x2="391.34" y2="910.3" stroke="#fff" stroke-opacity="0.10" stroke-width="0.6"/><line x1="397.53" y1="717.7" x2="397.53" y2="910.3" stroke="#fff" stroke-opacity="0.10" stroke-width="0.6"/><line x1="403.71" y1="717.7" x2="403.71" y2="910.3" stroke="#fff" stroke-opacity="0.10" stroke-width="0.6"/><line x1="409.90" y1="717.7" x2="409.90" y2="910.3" stroke="#fff" stroke-opacity="0.10" stroke-width="0.6"/><line x1="416.08" y1="717.7" x2="416.08" y2="910.3" stroke="#fff" stroke-opacity="0.10" stroke-width="0.6"/><line x1="422.27" y1="717.7" x2="422.27" y2="910.3" stroke="#fff" stroke-opacity="0.10" stroke-width="0.6"/><line x1="428.46" y1="717.7" x2="428.46" y2="910.3" stroke="#fff" stroke-opacity="0.10" stroke-width="0.6"/><line x1="434.64" y1="717.7" x2="434.64" y2="910.3" stroke="#fff" stroke-opacity="0.10" stroke-width="0.6"/><line x1="440.83" y1="717.7" x2="440.83" y2="910.3" stroke="#fff" stroke-opacity="0.10" stroke-width="0.6"/><line x1="447.02" y1="717.7" x2="447.02" y2="910.3" stroke="#fff" stroke-opacity="0.10" stroke-width="0.6"/><line x1="453.20" y1="717.7" x2="453.20" y2="910.3" stroke="#fff" stroke-opacity="0.10" stroke-width="0.6"/><line x1="459.39" y1="717.7" x2="459.39" y2="910.3" stroke="#fff" stroke-opacity="0.10" stroke-width="0.6"/><line x1="465.58" y1="717.7" x2="465.58" y2="910.3" stroke="#fff" stroke-opacity="0.10" stroke-width="0.6"/><line x1="471.76" y1="717.7" x2="471.76" y2="910.3" stroke="#fff" stroke-opacity="0.10" stroke-width="0.6"/><line x1="477.95" y1="717.7" x2="477.95" y2="910.3" stroke="#fff" stroke-opacity="0.10" stroke-width="0.6"/><line x1="484.14" y1="717.7" x2="484.14" y2="910.3" stroke="#fff" stroke-opacity="0.10" stroke-width="0.6"/><line x1="490.32" y1="717.7" x2="490.32" y2="910.3" stroke="#fff" stroke-opacity="0.10" stroke-width="0.6"/><line x1="496.51" y1="717.7" x2="496.51" y2="910.3" stroke="#fff" stroke-opacity="0.10" stroke-width="0.6"/><line x1="502.69" y1="717.7" x2="502.69" y2="910.3" stroke="#fff" stroke-opacity="0.10" stroke-width="0.6"/><line x1="508.88" y1="717.7" x2="508.88" y2="910.3" stroke="#fff" stroke-opacity="0.10" stroke-width="0.6"/><line x1="515.07" y1="717.7" x2="515.07" y2="910.3" stroke="#fff" stroke-opacity="0.10" stroke-width="0.6"/><line x1="521.25" y1="717.7" x2="521.25" y2="910.3" stroke="#fff" stroke-opacity="0.10" stroke-width="0.6"/><line x1="527.44" y1="717.7" x2="527.44" y2="910.3" stroke="#fff" stroke-opacity="0.10" stroke-width="0.6"/><line x1="533.63" y1="717.7" x2="533.63" y2="910.3" stroke="#fff" stroke-opacity="0.10" stroke-width="0.6"/><line x1="539.81" y1="717.7" x2="539.81" y2="910.3" stroke="#fff" stroke-opacity="0.10" stroke-width="0.6"/><line x1="181" y1="766.00" x2="546" y2="766.00" stroke="#fff" stroke-opacity="0.55" stroke-width="0.8"/><line x1="181" y1="814.00" x2="546" y2="814.00" stroke="#fff" stroke-opacity="0.55" stroke-width="0.8"/><line x1="181" y1="862.40" x2="546" y2="862.40" stroke="#fff" stroke-opacity="0.55" stroke-width="0.8"/><rect x="360.11" y="717.7" width="6.49" height="192.60" fill="#c9c9c9"/><rect x="362.30" y="716.9000000000001" width="2.4" height="1" fill="#e0405a"/><line x1="180.5" y1="717.7" x2="180.5" y2="910.8" stroke="#959595" stroke-width="1"/><line x1="180" y1="910.8" x2="546" y2="910.8" stroke="#959595" stroke-width="1"/><line x1="175" y1="717.70" x2="180.5" y2="717.70" stroke="#959595" stroke-width="1"/><line x1="175" y1="766.00" x2="180.5" y2="766.00" stroke="#959595" stroke-width="1"/><line x1="175" y1="814.00" x2="180.5" y2="814.00" stroke="#959595" stroke-width="1"/><line x1="175" y1="862.40" x2="180.5" y2="862.40" stroke="#959595" stroke-width="1"/><line x1="175" y1="910.30" x2="180.5" y2="910.30" stroke="#959595" stroke-width="1"/><line x1="202.00" y1="910.8" x2="202.00" y2="914.8" stroke="#959595" stroke-width="1"/><line x1="257.50" y1="910.8" x2="257.50" y2="914.8" stroke="#959595" stroke-width="1"/><line x1="314.00" y1="910.8" x2="314.00" y2="914.8" stroke="#959595" stroke-width="1"/><line x1="369.50" y1="910.8" x2="369.50" y2="914.8" stroke="#959595" stroke-width="1"/><line x1="425.40" y1="910.8" x2="425.40" y2="914.8" stroke="#959595" stroke-width="1"/><line x1="481.00" y1="910.8" x2="481.00" y2="914.8" stroke="#959595" stroke-width="1"/><line x1="543.60" y1="910.8" x2="543.60" y2="914.8" stroke="#959595" stroke-width="1"/></svg>
<div class="t" style="left:152.98px;top:713.32px;font-size:9px;line-height:9px;color:#666;font-weight:bold;opacity:0.85;z-index:5;">1400</div>
<div class="b" style="left:175.00px;top:717.20px;width:5.50px;height:1.00px;background:#959595;z-index:5;"></div>
<div class="t" style="left:152.98px;top:761.62px;font-size:9px;line-height:9px;color:#666;font-weight:bold;opacity:0.85;z-index:5;">1050</div>
<div class="b" style="left:175.00px;top:765.50px;width:5.50px;height:1.00px;background:#959595;z-index:5;"></div>
<div class="t" style="left:157.98px;top:809.62px;font-size:9px;line-height:9px;color:#666;font-weight:bold;opacity:0.85;z-index:5;">700</div>
<div class="b" style="left:175.00px;top:813.50px;width:5.50px;height:1.00px;background:#959595;z-index:5;"></div>
<div class="t" style="left:157.98px;top:858.02px;font-size:9px;line-height:9px;color:#666;font-weight:bold;opacity:0.85;z-index:5;">350</div>
<div class="b" style="left:175.00px;top:861.90px;width:5.50px;height:1.00px;background:#959595;z-index:5;"></div>
<div class="t" style="left:167.99px;top:905.92px;font-size:9px;line-height:9px;color:#666;font-weight:bold;opacity:0.85;z-index:5;">0</div>
<div class="b" style="left:175.00px;top:909.80px;width:5.50px;height:1.00px;background:#959595;z-index:5;"></div>
<div class="t" style="left:181.00px;top:915.66px;font-size:9.5px;line-height:9.5px;color:#666;font-weight:bold;transform:scaleX(0.9814);opacity:0.85;">13:08.421</div>
<div class="t" style="left:236.50px;top:915.66px;font-size:9.5px;line-height:9.5px;color:#666;font-weight:bold;transform:scaleX(0.9814);opacity:0.85;">13:09.330</div>
<div class="t" style="left:293.00px;top:915.66px;font-size:9.5px;line-height:9.5px;color:#666;font-weight:bold;transform:scaleX(0.9814);opacity:0.85;">13:10.236</div>
<div class="t" style="left:348.50px;top:915.66px;font-size:9.5px;line-height:9.5px;color:#666;font-weight:bold;transform:scaleX(0.9935);opacity:0.85;">13:11.150</div>
<div class="t" style="left:404.40px;top:915.66px;font-size:9.5px;line-height:9.5px;color:#666;font-weight:bold;transform:scaleX(0.9814);opacity:0.85;">13:12.058</div>
<div class="t" style="left:460.00px;top:915.66px;font-size:9.5px;line-height:9.5px;color:#666;font-weight:bold;transform:scaleX(0.9814);opacity:0.85;">13:12.963</div>
<div class="t" style="left:516.00px;top:915.66px;font-size:9.5px;line-height:9.5px;color:#666;font-weight:bold;transform:scaleX(0.9814);opacity:0.85;">13:13.969</div>
<div class="b" style="left:306.40px;top:697.90px;width:8.00px;height:8.00px;background:#611868;"></div>
<div class="t" style="left:318.00px;top:698.22px;font-size:9px;line-height:9px;color:#444;transform:scaleX(0.9682);">Switch 0.0.0.64</div>
<div class="b" style="left:387.00px;top:697.90px;width:8.00px;height:8.00px;background:#5b70c6;"></div>
<div class="t" style="left:397.70px;top:698.22px;font-size:9px;line-height:9px;color:#444;transform:scaleX(0.9730);">Switch 0.0.0.96</div>
<div class="b" style="left:466.80px;top:697.90px;width:8.00px;height:8.00px;background:#ad48c0;"></div>
<div class="t" style="left:477.80px;top:698.22px;font-size:9px;line-height:9px;color:#444;transform:scaleX(0.9654);">Switch 0.0.0.112</div>
<div class="b" style="left:180.60px;top:808.70px;width:409.40px;height:94.80px;background:rgba(255,255,255,0.915);box-shadow:0 1px 2px rgba(0,0,0,0.10);"></div>
<div class="t" style="left:189.00px;top:813.56px;font-size:9.5px;line-height:9.5px;color:#000;font-weight:bold;transform:scaleX(1.0376);">Friday, May 03, 2019 11:13:11.48866354 AM</div>
<div class="t" style="left:189.00px;top:831.68px;font-size:9px;line-height:9px;color:#555;transform:scaleX(1.0032);">Anomaly Detected for Latency (859,32 ns) Mean breached threshold Upper Rare band (858,61 ns)</div>
<div class="t" style="left:189.00px;top:845.58px;font-size:9px;line-height:9px;color:#555;transform:scaleX(0.9954);">Latency</div>
<div class="t" style="left:225.80px;top:845.58px;font-size:9px;line-height:9px;color:#333;font-weight:bold;transform:scaleX(1.0960);">1356 ns</div>
<div class="b" style="left:189.70px;top:863.20px;width:4.00px;height:4.00px;background:#611868;border-radius:50%;"></div>
<div class="t" style="left:197.60px;top:860.38px;font-size:9px;line-height:9px;color:#555;transform:scaleX(0.9682);">Switch 0.0.0.64</div>
<div class="t" style="left:262.00px;top:860.38px;font-size:9px;line-height:9px;color:#333;font-weight:bold;transform:scaleX(1.1157);">1156 ns</div>
<div class="b" style="left:189.70px;top:878.00px;width:4.00px;height:4.00px;background:#ad48c0;border-radius:50%;"></div>
<div class="t" style="left:197.60px;top:875.18px;font-size:9px;line-height:9px;color:#555;transform:scaleX(0.9775);">Switch 0.0.0.112</div>
<div class="t" style="left:267.00px;top:875.18px;font-size:9px;line-height:9px;color:#333;font-weight:bold;transform:scaleX(1.0879);">132 ns</div>
<div class="b" style="left:189.70px;top:892.80px;width:4.00px;height:4.00px;background:#5b70c6;border-radius:50%;"></div>
<div class="t" style="left:197.60px;top:889.98px;font-size:9px;line-height:9px;color:#555;transform:scaleX(0.9682);">Switch 0.0.0.96</div>
<div class="t" style="left:260.70px;top:889.98px;font-size:9px;line-height:9px;color:#333;font-weight:bold;transform:scaleX(1.1698);">68 ns</div>
<div class="b" style="left:607.00px;top:784.00px;width:1.40px;height:112.00px;background:#e6e6e8;"></div>
<svg style="left:0;top:0" width="1638" height="1030"><rect x="180.8" y="934" width="365.59999999999997" height="19.200000000000045" fill="#fff" stroke="#999" stroke-width="1.2"/><rect x="411.6" y="934.6" width="36.599999999999966" height="18.000000000000046" fill="#dcdcdc"/><polyline points="181.8,947.9 182.9,947.3 184.0,949.2 185.1,948.9 186.2,950.7 187.3,948.9 188.4,948.3 189.5,949.5 190.6,949.3 191.7,948.8 192.8,951.3 193.8,949.2 194.9,949.5 196.0,947.4 197.1,948.8 198.2,950.2 199.3,949.2 200.4,950.0 201.5,948.7 202.6,949.2 203.7,949.7 204.8,947.7 205.9,948.3 207.0,950.1 208.1,949.0 209.2,949.7 210.3,949.8 211.4,948.6 212.5,949.5 213.6,951.2 214.7,949.6 215.8,949.8 216.8,951.8 217.9,949.4 219.0,950.0 220.1,949.1 221.2,947.8 222.3,948.9 223.4,949.1 224.5,947.7 225.6,949.6 226.7,946.8 227.8,950.2 228.9,949.9 230.0,949.4 231.1,949.3 232.2,949.1 233.3,947.2 234.4,948.5 235.5,950.6 236.6,949.5 237.7,949.8 238.7,949.0 239.8,950.6 240.9,948.6 242.0,948.7 243.1,949.5 244.2,950.0 245.3,948.9 246.4,950.8 247.5,951.9 248.6,948.8 249.7,947.6 250.8,950.6 251.9,946.7 253.0,949.5 254.1,948.1 255.2,949.2 256.3,949.6 257.4,949.5 258.5,949.4 259.6,950.6 260.7,949.6 261.7,949.6 262.8,948.8 263.9,948.8 265.0,950.2 266.1,948.6 267.2,948.9 268.3,950.1 269.4,949.0 270.5,949.7 271.6,948.9 272.7,949.5 273.8,948.2 274.9,950.1 276.0,949.2 277.1,948.6 278.2,950.6 279.3,949.1 280.4,948.5 281.5,948.3 282.6,948.4 283.7,949.1 284.7,950.1 285.8,949.6 286.9,948.7 288.0,949.2 289.1,948.2 290.2,949.0 291.3,948.9 292.4,949.2 293.5,951.0 294.6,949.4 295.7,947.7 296.8,951.1 297.9,951.8 299.0,949.0 300.1,951.3 301.2,949.8 302.3,949.6 303.4,946.8 304.5,950.7 305.6,949.4 306.7,949.3 307.7,948.4 308.8,949.0 309.9,949.4 311.0,946.9 312.1,948.6 313.2,948.0 314.3,949.3 315.4,949.0 316.5,948.9 317.6,948.4 318.7,950.0 319.8,949.6 320.9,949.2 322.0,949.7 323.1,949.7 324.2,948.0 325.3,949.3 326.4,949.3 327.5,949.9 328.6,948.8 329.6,948.9 330.7,949.7 331.8,949.4 332.9,948.8 334.0,947.8 335.1,950.1 336.2,948.8 337.3,948.5 338.4,949.2 339.5,949.5 340.6,950.9 341.7,948.4 342.8,949.1 343.9,949.2 345.0,949.7 346.1,947.8 347.2,950.0 348.3,949.0 349.4,949.2 350.5,948.5 351.6,949.5 352.6,949.8 353.7,949.2 354.8,950.5 355.9,951.9 357.0,950.1 358.1,948.9 359.2,951.7 360.3,949.6 361.4,950.6 362.5,949.5 363.6,950.0 364.7,948.1 365.8,948.8 366.9,949.5 368.0,949.0 369.1,949.1 370.2,948.8 371.3,949.8 372.4,949.4 373.5,946.8 374.6,949.3 375.6,948.9 376.7,949.7 377.8,949.6 378.9,949.0 380.0,948.9 381.1,949.8 382.2,949.7 383.3,948.0 384.4,949.0 385.5,949.4 386.6,949.1 387.7,950.9 388.8,949.9 389.9,948.8 391.0,950.7 392.1,949.6 393.2,949.5 394.3,948.2 395.4,950.6 396.5,951.8 397.6,949.7 398.6,948.7 399.7,947.4 400.8,949.0 401.9,951.2 403.0,950.5 404.1,949.9 405.2,949.8 406.3,949.5 407.4,950.4 408.5,947.7 409.6,949.8 410.7,948.4 411.8,947.2 412.9,949.4 414.0,947.0 415.1,947.5 416.2,945.6 417.3,944.2 418.4,947.1 419.5,944.3 420.5,942.7 421.6,942.9 422.7,944.0 423.8,939.5 424.9,940.7 426.0,938.2 427.1,940.5 428.2,936.6 429.3,935.1 430.4,935.5 431.5,935.0 432.6,940.0 433.7,935.4 434.8,939.8 435.9,939.1 437.0,940.6 438.1,942.0 439.2,943.3 440.3,943.0 441.4,943.9 442.5,943.7 443.5,943.8 444.6,947.2 445.7,947.6 446.8,948.8 447.9,949.8 449.0,949.7 450.1,948.2 451.2,950.2 452.3,949.4 453.4,949.3 454.5,950.5 455.6,949.7 456.7,948.2 457.8,947.2 458.9,948.3 460.0,950.1 461.1,949.1 462.2,949.8 463.3,949.3 464.4,949.5 465.5,950.5 466.5,949.4 467.6,948.9 468.7,949.1 469.8,949.7 470.9,949.2 472.0,947.9 473.1,948.9 474.2,950.8 475.3,949.3 476.4,949.1 477.5,947.4 478.6,948.9 479.7,949.4 480.8,948.8 481.9,949.5 483.0,949.8 484.1,949.5 485.2,949.9 486.3,949.4 487.4,949.4 488.5,950.3 489.5,949.6 490.6,950.5 491.7,950.6 492.8,948.3 493.9,948.7 495.0,950.6 496.1,950.6 497.2,948.5 498.3,949.5 499.4,948.6 500.5,949.3 501.6,949.5 502.7,947.6 503.8,947.7 504.9,950.7 506.0,948.2 507.1,950.1 508.2,948.9 509.3,949.4 510.4,946.7 511.4,949.0 512.5,949.3 513.6,950.5 514.7,948.8 515.8,949.6 516.9,947.0 518.0,949.6 519.1,949.9 520.2,950.1 521.3,950.0 522.4,949.2 523.5,949.3 524.6,950.3 525.7,948.6 526.8,950.0 527.9,949.3 529.0,949.4 530.1,948.3 531.2,948.6 532.3,949.2 533.4,949.1 534.4,950.4 535.5,948.9 536.6,949.2 537.7,949.5 538.8,950.1 539.9,948.6 541.0,948.1 542.1,949.4 543.2,948.8 544.3,949.8 545.4,949.0" fill="none" stroke="#1a1a1a" stroke-width="0.9"/><rect x="409.6" y="934.6" width="4" height="18.000000000000046" fill="#6a6a6a"/><rect x="446.2" y="934.6" width="4" height="18.000000000000046" fill="#6a6a6a"/></svg>
<svg style="left:0;top:0" width="1638" height="1030"><line x1="662.2" y1="668.70" x2="1065" y2="668.70" stroke="#f0f0f0" stroke-width="1"/><line x1="662.2" y1="727.40" x2="1065" y2="727.40" stroke="#f0f0f0" stroke-width="1"/><line x1="662.2" y1="786.00" x2="1065" y2="786.00" stroke="#f0f0f0" stroke-width="1"/><line x1="662.2" y1="844.80" x2="1065" y2="844.80" stroke="#f0f0f0" stroke-width="1"/><rect x="662.20" y="821.48" width="6.98" height="82.02" fill="#ad48c0"/><rect x="662.20" y="827.07" width="6.98" height="76.43" fill="#5b70c6"/><rect x="662.20" y="891.28" width="6.98" height="12.22" fill="#611868"/><rect x="669.03" y="759.74" width="6.98" height="143.76" fill="#ad48c0"/><rect x="669.03" y="837.91" width="6.98" height="65.59" fill="#5b70c6"/><rect x="669.03" y="857.92" width="6.98" height="45.58" fill="#611868"/><rect x="675.85" y="825.58" width="6.98" height="77.92" fill="#ad48c0"/><rect x="675.85" y="831.45" width="6.98" height="72.05" fill="#5b70c6"/><rect x="675.85" y="833.67" width="6.98" height="69.83" fill="#611868"/><rect x="682.68" y="713.21" width="6.98" height="190.29" fill="#ad48c0"/><rect x="682.68" y="759.36" width="6.98" height="144.14" fill="#5b70c6"/><rect x="682.68" y="833.98" width="6.98" height="69.52" fill="#611868"/><rect x="689.51" y="771.28" width="6.98" height="132.22" fill="#ad48c0"/><rect x="689.51" y="822.01" width="6.98" height="81.49" fill="#5b70c6"/><rect x="689.51" y="864.48" width="6.98" height="39.02" fill="#611868"/><rect x="696.34" y="794.97" width="6.98" height="108.53" fill="#ad48c0"/><rect x="696.34" y="798.00" width="6.98" height="105.50" fill="#5b70c6"/><rect x="696.34" y="799.09" width="6.98" height="104.41" fill="#611868"/><rect x="703.16" y="737.95" width="6.98" height="165.55" fill="#ad48c0"/><rect x="703.16" y="831.72" width="6.98" height="71.78" fill="#5b70c6"/><rect x="703.16" y="862.88" width="6.98" height="40.62" fill="#611868"/><rect x="709.99" y="760.90" width="6.98" height="142.60" fill="#ad48c0"/><rect x="709.99" y="790.26" width="6.98" height="113.24" fill="#5b70c6"/><rect x="709.99" y="883.08" width="6.98" height="20.42" fill="#611868"/><rect x="716.82" y="860.68" width="6.98" height="42.82" fill="#ad48c0"/><rect x="716.82" y="870.33" width="6.98" height="33.17" fill="#5b70c6"/><rect x="716.82" y="884.87" width="6.98" height="18.63" fill="#611868"/><rect x="723.64" y="836.39" width="6.98" height="67.11" fill="#ad48c0"/><rect x="723.64" y="842.55" width="6.98" height="60.95" fill="#5b70c6"/><rect x="723.64" y="844.44" width="6.98" height="59.06" fill="#611868"/><rect x="730.47" y="789.11" width="6.98" height="114.39" fill="#ad48c0"/><rect x="730.47" y="794.39" width="6.98" height="109.11" fill="#5b70c6"/><rect x="730.47" y="795.11" width="6.98" height="108.39" fill="#611868"/><rect x="737.30" y="778.21" width="6.98" height="125.29" fill="#ad48c0"/><rect x="737.30" y="798.27" width="6.98" height="105.23" fill="#5b70c6"/><rect x="737.30" y="821.14" width="6.98" height="82.36" fill="#611868"/><rect x="744.13" y="773.46" width="6.98" height="130.04" fill="#ad48c0"/><rect x="744.13" y="789.62" width="6.98" height="113.88" fill="#5b70c6"/><rect x="744.13" y="831.99" width="6.98" height="71.51" fill="#611868"/><rect x="750.95" y="746.54" width="6.98" height="156.96" fill="#ad48c0"/><rect x="750.95" y="749.36" width="6.98" height="154.14" fill="#5b70c6"/><rect x="750.95" y="828.12" width="6.98" height="75.38" fill="#611868"/><rect x="757.78" y="850.34" width="6.98" height="53.16" fill="#ad48c0"/><rect x="757.78" y="855.53" width="6.98" height="47.97" fill="#5b70c6"/><rect x="764.61" y="835.38" width="6.98" height="68.12" fill="#ad48c0"/><rect x="764.61" y="840.38" width="6.98" height="63.12" fill="#5b70c6"/><rect x="764.61" y="883.59" width="6.98" height="19.91" fill="#611868"/><rect x="771.43" y="837.02" width="6.98" height="66.48" fill="#ad48c0"/><rect x="771.43" y="841.59" width="6.98" height="61.91" fill="#5b70c6"/><rect x="771.43" y="880.00" width="6.98" height="23.50" fill="#611868"/><rect x="778.26" y="751.03" width="6.98" height="152.47" fill="#ad48c0"/><rect x="778.26" y="761.67" width="6.98" height="141.83" fill="#5b70c6"/><rect x="778.26" y="814.81" width="6.98" height="88.69" fill="#611868"/><rect x="785.09" y="759.74" width="6.98" height="143.76" fill="#ad48c0"/><rect x="785.09" y="777.69" width="6.98" height="125.81" fill="#5b70c6"/><rect x="785.09" y="873.81" width="6.98" height="29.69" fill="#611868"/><rect x="791.92" y="730.51" width="6.98" height="172.99" fill="#ad48c0"/><rect x="791.92" y="841.77" width="6.98" height="61.73" fill="#5b70c6"/><rect x="791.92" y="869.81" width="6.98" height="33.69" fill="#611868"/><rect x="798.74" y="710.38" width="6.98" height="193.12" fill="#ad48c0"/><rect x="798.74" y="765.77" width="6.98" height="137.73" fill="#5b70c6"/><rect x="798.74" y="850.04" width="6.98" height="53.46" fill="#611868"/><rect x="805.57" y="811.33" width="6.98" height="92.17" fill="#ad48c0"/><rect x="805.57" y="813.63" width="6.98" height="89.87" fill="#5b70c6"/><rect x="805.57" y="817.10" width="6.98" height="86.40" fill="#611868"/><rect x="812.40" y="793.20" width="6.98" height="110.30" fill="#ad48c0"/><rect x="812.40" y="800.86" width="6.98" height="102.64" fill="#5b70c6"/><rect x="812.40" y="805.66" width="6.98" height="97.84" fill="#611868"/><rect x="819.22" y="691.15" width="6.98" height="212.35" fill="#ad48c0"/><rect x="819.22" y="735.00" width="6.98" height="168.50" fill="#5b70c6"/><rect x="819.22" y="861.42" width="6.98" height="42.08" fill="#611868"/><rect x="826.05" y="703.97" width="6.98" height="199.53" fill="#ad48c0"/><rect x="826.05" y="808.87" width="6.98" height="94.63" fill="#5b70c6"/><rect x="826.05" y="871.52" width="6.98" height="31.98" fill="#611868"/><rect x="832.88" y="671.28" width="6.98" height="232.22" fill="#ad48c0"/><rect x="832.88" y="740.77" width="6.98" height="162.73" fill="#5b70c6"/><rect x="832.88" y="861.48" width="6.98" height="42.02" fill="#611868"/><rect x="839.71" y="721.28" width="6.98" height="182.22" fill="#ad48c0"/><rect x="839.71" y="765.77" width="6.98" height="137.73" fill="#5b70c6"/><rect x="839.71" y="792.04" width="6.98" height="111.46" fill="#611868"/><rect x="846.53" y="722.18" width="6.98" height="181.32" fill="#ad48c0"/><rect x="846.53" y="799.32" width="6.98" height="104.18" fill="#5b70c6"/><rect x="846.53" y="867.84" width="6.98" height="35.66" fill="#611868"/><rect x="853.36" y="751.92" width="6.98" height="151.58" fill="#ad48c0"/><rect x="853.36" y="773.08" width="6.98" height="130.42" fill="#5b70c6"/><rect x="853.36" y="830.54" width="6.98" height="72.96" fill="#611868"/><rect x="867.01" y="743.72" width="6.98" height="159.78" fill="#ad48c0"/><rect x="867.01" y="821.99" width="6.98" height="81.51" fill="#5b70c6"/><rect x="867.01" y="863.81" width="6.98" height="39.69" fill="#611868"/><rect x="873.84" y="754.23" width="6.98" height="149.27" fill="#ad48c0"/><rect x="873.84" y="760.90" width="6.98" height="142.60" fill="#5b70c6"/><rect x="873.84" y="814.12" width="6.98" height="89.38" fill="#611868"/><rect x="880.67" y="705.51" width="6.98" height="197.99" fill="#ad48c0"/><rect x="880.67" y="750.13" width="6.98" height="153.37" fill="#5b70c6"/><rect x="880.67" y="799.15" width="6.98" height="104.35" fill="#611868"/><rect x="887.49" y="730.51" width="6.98" height="172.99" fill="#ad48c0"/><rect x="887.49" y="759.36" width="6.98" height="144.14" fill="#5b70c6"/><rect x="887.49" y="819.27" width="6.98" height="84.23" fill="#611868"/><rect x="894.32" y="693.97" width="6.98" height="209.53" fill="#ad48c0"/><rect x="894.32" y="734.36" width="6.98" height="169.14" fill="#5b70c6"/><rect x="894.32" y="871.05" width="6.98" height="32.45" fill="#611868"/><rect x="901.15" y="844.09" width="6.98" height="59.41" fill="#ad48c0"/><rect x="901.15" y="845.27" width="6.98" height="58.23" fill="#5b70c6"/><rect x="901.15" y="848.23" width="6.98" height="55.27" fill="#611868"/><rect x="907.98" y="735.00" width="6.98" height="168.50" fill="#ad48c0"/><rect x="907.98" y="793.46" width="6.98" height="110.04" fill="#5b70c6"/><rect x="907.98" y="803.92" width="6.98" height="99.58" fill="#611868"/><rect x="914.80" y="752.95" width="6.98" height="150.55" fill="#ad48c0"/><rect x="914.80" y="831.04" width="6.98" height="72.46" fill="#5b70c6"/><rect x="914.80" y="843.61" width="6.98" height="59.89" fill="#611868"/><rect x="921.63" y="829.39" width="6.98" height="74.11" fill="#ad48c0"/><rect x="921.63" y="833.86" width="6.98" height="69.64" fill="#5b70c6"/><rect x="921.63" y="836.15" width="6.98" height="67.35" fill="#611868"/><rect x="928.46" y="842.16" width="6.98" height="61.34" fill="#ad48c0"/><rect x="928.46" y="843.47" width="6.98" height="60.03" fill="#5b70c6"/><rect x="928.46" y="851.19" width="6.98" height="52.31" fill="#611868"/><rect x="935.28" y="742.44" width="6.98" height="161.06" fill="#ad48c0"/><rect x="935.28" y="772.18" width="6.98" height="131.32" fill="#5b70c6"/><rect x="935.28" y="801.55" width="6.98" height="101.95" fill="#611868"/><rect x="942.11" y="775.77" width="6.98" height="127.73" fill="#ad48c0"/><rect x="942.11" y="777.31" width="6.98" height="126.19" fill="#5b70c6"/><rect x="942.11" y="826.50" width="6.98" height="77.00" fill="#611868"/><rect x="948.94" y="803.75" width="6.98" height="99.75" fill="#ad48c0"/><rect x="948.94" y="806.45" width="6.98" height="97.05" fill="#5b70c6"/><rect x="948.94" y="818.10" width="6.98" height="85.40" fill="#611868"/><rect x="955.77" y="847.45" width="6.98" height="56.05" fill="#ad48c0"/><rect x="955.77" y="850.49" width="6.98" height="53.01" fill="#5b70c6"/><rect x="955.77" y="892.05" width="6.98" height="11.45" fill="#611868"/><rect x="962.59" y="751.03" width="6.98" height="152.47" fill="#ad48c0"/><rect x="962.59" y="766.41" width="6.98" height="137.09" fill="#5b70c6"/><rect x="962.59" y="864.56" width="6.98" height="38.94" fill="#611868"/><rect x="969.42" y="775.77" width="6.98" height="127.73" fill="#ad48c0"/><rect x="969.42" y="799.38" width="6.98" height="104.12" fill="#5b70c6"/><rect x="969.42" y="886.92" width="6.98" height="16.58" fill="#611868"/><rect x="976.25" y="761.92" width="6.98" height="141.58" fill="#ad48c0"/><rect x="976.25" y="809.29" width="6.98" height="94.21" fill="#5b70c6"/><rect x="976.25" y="865.45" width="6.98" height="38.05" fill="#611868"/><rect x="983.07" y="728.59" width="6.98" height="174.91" fill="#ad48c0"/><rect x="983.07" y="822.66" width="6.98" height="80.84" fill="#5b70c6"/><rect x="983.07" y="833.21" width="6.98" height="70.29" fill="#611868"/><rect x="989.90" y="861.21" width="6.98" height="42.29" fill="#ad48c0"/><rect x="989.90" y="863.34" width="6.98" height="40.16" fill="#5b70c6"/><rect x="989.90" y="884.36" width="6.98" height="19.14" fill="#611868"/><rect x="996.73" y="807.11" width="6.98" height="96.39" fill="#ad48c0"/><rect x="996.73" y="814.84" width="6.98" height="88.66" fill="#5b70c6"/><rect x="996.73" y="901.03" width="6.98" height="2.47" fill="#611868"/><rect x="1003.56" y="812.34" width="6.98" height="91.16" fill="#ad48c0"/><rect x="1003.56" y="815.31" width="6.98" height="88.19" fill="#5b70c6"/><rect x="1003.56" y="816.19" width="6.98" height="87.31" fill="#611868"/><rect x="1010.38" y="794.67" width="6.98" height="108.83" fill="#ad48c0"/><rect x="1010.38" y="800.50" width="6.98" height="103.00" fill="#5b70c6"/><rect x="1010.38" y="898.46" width="6.98" height="5.04" fill="#611868"/><rect x="1017.21" y="755.13" width="6.98" height="148.37" fill="#ad48c0"/><rect x="1017.21" y="801.12" width="6.98" height="102.38" fill="#5b70c6"/><rect x="1024.04" y="832.50" width="6.98" height="71.00" fill="#ad48c0"/><rect x="1024.04" y="836.21" width="6.98" height="67.29" fill="#5b70c6"/><rect x="1024.04" y="885.64" width="6.98" height="17.86" fill="#611868"/><rect x="1030.86" y="821.54" width="6.98" height="81.96" fill="#ad48c0"/><rect x="1030.86" y="831.13" width="6.98" height="72.37" fill="#5b70c6"/><rect x="1030.86" y="899.74" width="6.98" height="3.76" fill="#611868"/><rect x="1037.69" y="871.00" width="6.98" height="32.50" fill="#ad48c0"/><rect x="1037.69" y="887.69" width="6.98" height="15.81" fill="#611868"/><rect x="1044.52" y="778.59" width="6.98" height="124.91" fill="#ad48c0"/><rect x="1044.52" y="797.87" width="6.98" height="105.63" fill="#5b70c6"/><rect x="1044.52" y="814.68" width="6.98" height="88.82" fill="#611868"/><rect x="1051.35" y="770.26" width="6.98" height="133.24" fill="#ad48c0"/><rect x="1051.35" y="837.05" width="6.98" height="66.45" fill="#5b70c6"/><rect x="1051.35" y="868.36" width="6.98" height="35.14" fill="#611868"/><rect x="1058.17" y="806.46" width="6.98" height="97.04" fill="#ad48c0"/><rect x="1058.17" y="808.36" width="6.98" height="95.14" fill="#5b70c6"/><rect x="1058.17" y="901.79" width="6.98" height="1.71" fill="#611868"/><line x1="669.03" y1="668.7" x2="669.03" y2="903.5" stroke="#fff" stroke-opacity="0.10" stroke-width="0.6"/><line x1="675.85" y1="668.7" x2="675.85" y2="903.5" stroke="#fff" stroke-opacity="0.10" stroke-width="0.6"/><line x1="682.68" y1="668.7" x2="682.68" y2="903.5" stroke="#fff" stroke-opacity="0.10" stroke-width="0.6"/><line x1="689.51" y1="668.7" x2="689.51" y2="903.5" stroke="#fff" stroke-opacity="0.10" stroke-width="0.6"/><line x1="696.34" y1="668.7" x2="696.34" y2="903.5" stroke="#fff" stroke-opacity="0.10" stroke-width="0.6"/><line x1="703.16" y1="668.7" x2="703.16" y2="903.5" stroke="#fff" stroke-opacity="0.10" stroke-width="0.6"/><line x1="709.99" y1="668.7" x2="709.99" y2="903.5" stroke="#fff" stroke-opacity="0.10" stroke-width="0.6"/><line x1="716.82" y1="668.7" x2="716.82" y2="903.5" stroke="#fff" stroke-opacity="0.10" stroke-width="0.6"/><line x1="723.64" y1="668.7" x2="723.64" y2="903.5" stroke="#fff" stroke-opacity="0.10" stroke-width="0.6"/><line x1="730.47" y1="668.7" x2="730.47" y2="903.5" stroke="#fff" stroke-opacity="0.10" stroke-width="0.6"/><line x1="737.30" y1="668.7" x2="737.30" y2="903.5" stroke="#fff" stroke-opacity="0.10" stroke-width="0.6"/><line x1="744.13" y1="668.7" x2="744.13" y2="903.5" stroke="#fff" stroke-opacity="0.10" stroke-width="0.6"/><line x1="750.95" y1="668.7" x2="750.95" y2="903.5" stroke="#fff" stroke-opacity="0.10" stroke-width="0.6"/><line x1="757.78" y1="668.7" x2="757.78" y2="903.5" stroke="#fff" stroke-opacity="0.10" stroke-width="0.6"/><line x1="764.61" y1="668.7" x2="764.61" y2="903.5" stroke="#fff" stroke-opacity="0.10" stroke-width="0.6"/><line x1="771.43" y1="668.7" x2="771.43" y2="903.5" stroke="#fff" stroke-opacity="0.10" stroke-width="0.6"/><line x1="778.26" y1="668.7" x2="778.26" y2="903.5" stroke="#fff" stroke-opacity="0.10" stroke-width="0.6"/><line x1="785.09" y1="668.7" x2="785.09" y2="903.5" stroke="#fff" stroke-opacity="0.10" stroke-width="0.6"/><line x1="791.92" y1="668.7" x2="791.92" y2="903.5" stroke="#fff" stroke-opacity="0.10" stroke-width="0.6"/><line x1="798.74" y1="668.7" x2="798.74" y2="903.5" stroke="#fff" stroke-opacity="0.10" stroke-width="0.6"/><line x1="805.57" y1="668.7" x2="805.57" y2="903.5" stroke="#fff" stroke-opacity="0.10" stroke-width="0.6"/><line x1="812.40" y1="668.7" x2="812.40" y2="903.5" stroke="#fff" stroke-opacity="0.10" stroke-width="0.6"/><line x1="819.22" y1="668.7" x2="819.22" y2="903.5" stroke="#fff" stroke-opacity="0.10" stroke-width="0.6"/><line x1="826.05" y1="668.7" x2="826.05" y2="903.5" stroke="#fff" stroke-opacity="0.10" stroke-width="0.6"/><line x1="832.88" y1="668.7" x2="832.88" y2="903.5" stroke="#fff" stroke-opacity="0.10" stroke-width="0.6"/><line x1="839.71" y1="668.7" x2="839.71" y2="903.5" stroke="#fff" stroke-opacity="0.10" stroke-width="0.6"/><line x1="846.53" y1="668.7" x2="846.53" y2="903.5" stroke="#fff" stroke-opacity="0.10" stroke-width="0.6"/><line x1="853.36" y1="668.7" x2="853.36" y2="903.5" stroke="#fff" stroke-opacity="0.10" stroke-width="0.6"/><line x1="860.19" y1="668.7" x2="860.19" y2="903.5" stroke="#fff" stroke-opacity="0.10" stroke-width="0.6"/><line x1="867.01" y1="668.7" x2="867.01" y2="903.5" stroke="#fff" stroke-opacity="0.10" stroke-width="0.6"/><line x1="873.84" y1="668.7" x2="873.84" y2="903.5" stroke="#fff" stroke-opacity="0.10" stroke-width="0.6"/><line x1="880.67" y1="668.7" x2="880.67" y2="903.5" stroke="#fff" stroke-opacity="0.10" stroke-width="0.6"/><line x1="887.49" y1="668.7" x2="887.49" y2="903.5" stroke="#fff" stroke-opacity="0.10" stroke-width="0.6"/><line x1="894.32" y1="668.7" x2="894.32" y2="903.5" stroke="#fff" stroke-opacity="0.10" stroke-width="0.6"/><line x1="901.15" y1="668.7" x2="901.15" y2="903.5" stroke="#fff" stroke-opacity="0.10" stroke-width="0.6"/><line x1="907.98" y1="668.7" x2="907.98" y2="903.5" stroke="#fff" stroke-opacity="0.10" stroke-width="0.6"/><line x1="914.80" y1="668.7" x2="914.80" y2="903.5" stroke="#fff" stroke-opacity="0.10" stroke-width="0.6"/><line x1="921.63" y1="668.7" x2="921.63" y2="903.5" stroke="#fff" stroke-opacity="0.10" stroke-width="0.6"/><line x1="928.46" y1="668.7" x2="928.46" y2="903.5" stroke="#fff" stroke-opacity="0.10" stroke-width="0.6"/><line x1="935.28" y1="668.7" x2="935.28" y2="903.5" stroke="#fff" stroke-opacity="0.10" stroke-width="0.6"/><line x1="942.11" y1="668.7" x2="942.11" y2="903.5" stroke="#fff" stroke-opacity="0.10" stroke-width="0.6"/><line x1="948.94" y1="668.7" x2="948.94" y2="903.5" stroke="#fff" stroke-opacity="0.10" stroke-width="0.6"/><line x1="955.77" y1="668.7" x2="955.77" y2="903.5" stroke="#fff" stroke-opacity="0.10" stroke-width="0.6"/><line x1="962.59" y1="668.7" x2="962.59" y2="903.5" stroke="#fff" stroke-opacity="0.10" stroke-width="0.6"/><line x1="969.42" y1="668.7" x2="969.42" y2="903.5" stroke="#fff" stroke-opacity="0.10" stroke-width="0.6"/><line x1="976.25" y1="668.7" x2="976.25" y2="903.5" stroke="#fff" stroke-opacity="0.10" stroke-width="0.6"/><line x1="983.07" y1="668.7" x2="983.07" y2="903.5" stroke="#fff" stroke-opacity="0.10" stroke-width="0.6"/><line x1="989.90" y1="668.7" x2="989.90" y2="903.5" stroke="#fff" stroke-opacity="0.10" stroke-width="0.6"/><line x1="996.73" y1="668.7" x2="996.73" y2="903.5" stroke="#fff" stroke-opacity="0.10" stroke-width="0.6"/><line x1="1003.56" y1="668.7" x2="1003.56" y2="903.5" stroke="#fff" stroke-opacity="0.10" stroke-width="0.6"/><line x1="1010.38" y1="668.7" x2="1010.38" y2="903.5" stroke="#fff" stroke-opacity="0.10" stroke-width="0.6"/><line x1="1017.21" y1="668.7" x2="1017.21" y2="903.5" stroke="#fff" stroke-opacity="0.10" stroke-width="0.6"/><line x1="1024.04" y1="668.7" x2="1024.04" y2="903.5" stroke="#fff" stroke-opacity="0.10" stroke-width="0.6"/><line x1="1030.86" y1="668.7" x2="1030.86" y2="903.5" stroke="#fff" stroke-opacity="0.10" stroke-width="0.6"/><line x1="1037.69" y1="668.7" x2="1037.69" y2="903.5" stroke="#fff" stroke-opacity="0.10" stroke-width="0.6"/><line x1="1044.52" y1="668.7" x2="1044.52" y2="903.5" stroke="#fff" stroke-opacity="0.10" stroke-width="0.6"/><line x1="1051.35" y1="668.7" x2="1051.35" y2="903.5" stroke="#fff" stroke-opacity="0.10" stroke-width="0.6"/><line x1="1058.17" y1="668.7" x2="1058.17" y2="903.5" stroke="#fff" stroke-opacity="0.10" stroke-width="0.6"/><line x1="662.2" y1="727.40" x2="1065" y2="727.40" stroke="#fff" stroke-opacity="0.55" stroke-width="0.8"/><line x1="662.2" y1="786.00" x2="1065" y2="786.00" stroke="#fff" stroke-opacity="0.55" stroke-width="0.8"/><line x1="662.2" y1="844.80" x2="1065" y2="844.80" stroke="#fff" stroke-opacity="0.55" stroke-width="0.8"/><rect x="859.89" y="668.7" width="7.13" height="234.80" fill="#c9c9c9"/><rect x="862.40" y="667.9000000000001" width="2.4" height="1" fill="#e0405a"/><line x1="661.7" y1="668.7" x2="661.7" y2="904.0" stroke="#959595" stroke-width="1"/><line x1="661.2" y1="904.0" x2="1065" y2="904.0" stroke="#959595" stroke-width="1"/><line x1="656.2" y1="668.70" x2="661.7" y2="668.70" stroke="#959595" stroke-width="1"/><line x1="656.2" y1="727.40" x2="661.7" y2="727.40" stroke="#959595" stroke-width="1"/><line x1="656.2" y1="786.00" x2="661.7" y2="786.00" stroke="#959595" stroke-width="1"/><line x1="656.2" y1="844.80" x2="661.7" y2="844.80" stroke="#959595" stroke-width="1"/><line x1="656.2" y1="903.50" x2="661.7" y2="903.50" stroke="#959595" stroke-width="1"/><line x1="686.30" y1="904.0" x2="686.30" y2="908.0" stroke="#959595" stroke-width="1"/><line x1="747.50" y1="904.0" x2="747.50" y2="908.0" stroke="#959595" stroke-width="1"/><line x1="809.00" y1="904.0" x2="809.00" y2="908.0" stroke="#959595" stroke-width="1"/><line x1="870.90" y1="904.0" x2="870.90" y2="908.0" stroke="#959595" stroke-width="1"/><line x1="932.20" y1="904.0" x2="932.20" y2="908.0" stroke="#959595" stroke-width="1"/><line x1="993.70" y1="904.0" x2="993.70" y2="908.0" stroke="#959595" stroke-width="1"/><line x1="1061.90" y1="904.0" x2="1061.90" y2="908.0" stroke="#959595" stroke-width="1"/></svg>
<div class="t" style="left:636.68px;top:663.59px;font-size:10.5px;line-height:10.5px;color:#666;font-weight:bold;opacity:0.85;z-index:5;">220</div>
<div class="b" style="left:656.20px;top:668.20px;width:5.50px;height:1.00px;background:#959595;z-index:5;"></div>
<div class="t" style="left:636.68px;top:722.29px;font-size:10.5px;line-height:10.5px;color:#666;font-weight:bold;opacity:0.85;z-index:5;">165</div>
<div class="b" style="left:656.20px;top:726.90px;width:5.50px;height:1.00px;background:#959595;z-index:5;"></div>
<div class="t" style="left:637.26px;top:780.89px;font-size:10.5px;line-height:10.5px;color:#666;font-weight:bold;opacity:0.85;z-index:5;">110</div>
<div class="b" style="left:656.20px;top:785.50px;width:5.50px;height:1.00px;background:#959595;z-index:5;"></div>
<div class="t" style="left:642.52px;top:839.69px;font-size:10.5px;line-height:10.5px;color:#666;font-weight:bold;opacity:0.85;z-index:5;">55</div>
<div class="b" style="left:656.20px;top:844.30px;width:5.50px;height:1.00px;background:#959595;z-index:5;"></div>
<div class="t" style="left:648.36px;top:898.39px;font-size:10.5px;line-height:10.5px;color:#666;font-weight:bold;opacity:0.85;z-index:5;">0</div>
<div class="b" style="left:656.20px;top:903.00px;width:5.50px;height:1.00px;background:#959595;z-index:5;"></div>
<div class="t" style="left:662.45px;top:910.19px;font-size:11px;line-height:11px;color:#666;font-weight:bold;transform:scaleX(0.9626);opacity:0.85;">13:08.421</div>
<div class="t" style="left:723.65px;top:910.19px;font-size:11px;line-height:11px;color:#666;font-weight:bold;transform:scaleX(0.9626);opacity:0.85;">13:09.330</div>
<div class="t" style="left:785.15px;top:910.19px;font-size:11px;line-height:11px;color:#666;font-weight:bold;transform:scaleX(0.9626);opacity:0.85;">13:10.236</div>
<div class="t" style="left:847.05px;top:910.19px;font-size:11px;line-height:11px;color:#666;font-weight:bold;transform:scaleX(0.9745);opacity:0.85;">13:11.150</div>
<div class="t" style="left:908.35px;top:910.19px;font-size:11px;line-height:11px;color:#666;font-weight:bold;transform:scaleX(0.9626);opacity:0.85;">13:12.058</div>
<div class="t" style="left:969.85px;top:910.19px;font-size:11px;line-height:11px;color:#666;font-weight:bold;transform:scaleX(0.9626);opacity:0.85;">13:12.963</div>
<div class="t" style="left:1031.65px;top:910.19px;font-size:11px;line-height:11px;color:#666;font-weight:bold;transform:scaleX(0.9626);opacity:0.85;">13:13.969</div>
<div class="b" style="left:801.40px;top:644.85px;width:8.50px;height:8.50px;background:#611868;"></div>
<div class="t" style="left:813.90px;top:644.93px;font-size:10px;line-height:10px;color:#444;transform:scaleX(0.9576);">Switch 0.0.0.64</div>
<div class="b" style="left:889.60px;top:644.85px;width:8.50px;height:8.50px;background:#5b70c6;"></div>
<div class="t" style="left:901.70px;top:644.93px;font-size:10px;line-height:10px;color:#444;transform:scaleX(0.9693);">Switch 0.0.0.96</div>
<div class="b" style="left:977.40px;top:644.85px;width:8.50px;height:8.50px;background:#ad48c0;"></div>
<div class="t" style="left:990.00px;top:644.93px;font-size:10px;line-height:10px;color:#444;transform:scaleX(0.9699);">Switch 0.0.0.112</div>
<div class="b" style="left:662.00px;top:779.60px;width:453.00px;height:97.20px;background:rgba(255,255,255,0.925);box-shadow:1px 1px 3px rgba(0,0,0,0.22);"></div>
<div class="t" style="left:671.90px;top:787.31px;font-size:10.5px;line-height:10.5px;color:#000;font-weight:bold;transform:scaleX(1.0345);">Friday, May 03, 2019 11:13:11.48866354 AM</div>
<div class="t" style="left:671.90px;top:808.13px;font-size:10px;line-height:10px;color:#555;transform:scaleX(0.9952);">Anomaly Detected for Latency (859,32 ns) Mean breached threshold Upper Rare band (858,61 ns)</div>
<div class="b" style="left:672.40px;top:828.60px;width:4.40px;height:4.40px;background:#611868;border-radius:50%;"></div>
<div class="t" style="left:681.40px;top:825.53px;font-size:10px;line-height:10px;color:#555;transform:scaleX(0.9723);">Switch 0.0.0.64 Queue</div>
<div class="t" style="left:784.70px;top:825.53px;font-size:10px;line-height:10px;color:#333;font-weight:bold;">2</div>
<div class="t" style="left:793.00px;top:825.53px;font-size:10px;line-height:10px;color:#555;transform:scaleX(1.0185);">Queue Depth</div>
<div class="t" style="left:858.60px;top:825.53px;font-size:10px;line-height:10px;color:#333;font-weight:bold;transform:scaleX(1.1107);">93 pct</div>
<div class="b" style="left:672.40px;top:846.40px;width:4.40px;height:4.40px;background:#5b70c6;border-radius:50%;"></div>
<div class="t" style="left:681.40px;top:843.33px;font-size:10px;line-height:10px;color:#555;transform:scaleX(0.9723);">Switch 0.0.0.96 Queue</div>
<div class="t" style="left:784.70px;top:843.33px;font-size:10px;line-height:10px;color:#333;font-weight:bold;">2</div>
<div class="t" style="left:793.00px;top:843.33px;font-size:10px;line-height:10px;color:#555;transform:scaleX(1.0185);">Queue Depth</div>
<div class="t" style="left:858.60px;top:843.33px;font-size:10px;line-height:10px;color:#333;font-weight:bold;transform:scaleX(1.1178);">1 pct</div>
<div class="b" style="left:672.40px;top:864.20px;width:4.40px;height:4.40px;background:#ad48c0;border-radius:50%;"></div>
<div class="t" style="left:681.40px;top:861.13px;font-size:10px;line-height:10px;color:#555;transform:scaleX(0.9745);">Switch 0.0.0.112 Queue</div>
<div class="t" style="left:790.00px;top:861.13px;font-size:10px;line-height:10px;color:#333;font-weight:bold;">6</div>
<div class="t" style="left:798.80px;top:861.13px;font-size:10px;line-height:10px;color:#555;transform:scaleX(1.0050);">Queue Depth</div>
<div class="t" style="left:863.90px;top:861.13px;font-size:10px;line-height:10px;color:#333;font-weight:bold;transform:scaleX(1.1006);">0 pct</div>
<svg style="left:863.5px;top:769.5px" width="12" height="22" viewBox="0 0 12 22"><path d="M0.7 0.8 V17.5 L4.3 14 L7 20.5 L9.6 19.3 L6.9 13 H11.6 Z" fill="#fff" stroke="#000" stroke-width="1.1" stroke-linejoin="round"/></svg>
<svg style="left:0;top:0" width="1638" height="1030"><rect x="662.2" y="933" width="402.79999999999995" height="23" fill="#fff" stroke="#999" stroke-width="1.2"/><rect x="916" y="933.6" width="42" height="21.8" fill="#dcdcdc"/><polyline points="663.2,946.8 664.0,946.7 664.9,949.0 665.7,946.5 666.6,937.2 667.4,951.5 668.3,945.1 669.1,938.0 670.0,943.3 670.8,952.4 671.7,941.9 672.5,937.6 673.4,941.7 674.2,948.1 675.1,940.6 675.9,950.6 676.8,951.6 677.6,942.0 678.5,945.0 679.3,940.3 680.1,953.4 681.0,940.7 681.8,943.4 682.7,940.0 683.5,943.0 684.4,946.3 685.2,936.3 686.1,950.6 686.9,947.1 687.8,944.3 688.6,941.1 689.5,953.0 690.3,947.1 691.2,945.4 692.0,943.5 692.9,943.9 693.7,946.1 694.6,939.4 695.4,952.7 696.2,941.5 697.1,952.0 697.9,946.6 698.8,946.2 699.6,947.2 700.5,944.0 701.3,939.0 702.2,952.4 703.0,942.8 703.9,940.9 704.7,943.0 705.6,946.9 706.4,951.1 707.3,946.2 708.1,953.7 709.0,935.6 709.8,950.7 710.7,946.5 711.5,941.1 712.3,950.2 713.2,949.0 714.0,950.9 714.9,947.0 715.7,937.0 716.6,943.5 717.4,951.0 718.3,939.7 719.1,953.5 720.0,953.2 720.8,944.1 721.7,944.1 722.5,939.3 723.4,946.9 724.2,949.4 725.1,936.7 725.9,944.8 726.8,936.2 727.6,946.0 728.4,949.4 729.3,945.6 730.1,950.9 731.0,949.6 731.8,953.2 732.7,945.6 733.5,944.0 734.4,941.2 735.2,943.8 736.1,941.6 736.9,949.0 737.8,942.5 738.6,951.5 739.5,953.5 740.3,944.7 741.2,938.8 742.0,952.8 742.9,942.8 743.7,948.7 744.5,938.3 745.4,940.8 746.2,946.2 747.1,938.7 747.9,946.2 748.8,940.8 749.6,945.5 750.5,951.0 751.3,940.1 752.2,939.3 753.0,944.4 753.9,942.9 754.7,943.6 755.6,945.7 756.4,948.6 757.3,935.0 758.1,953.1 759.0,951.5 759.8,953.3 760.6,936.8 761.5,953.1 762.3,950.6 763.2,943.0 764.0,944.1 764.9,946.3 765.7,950.6 766.6,946.6 767.4,946.9 768.3,942.3 769.1,945.4 770.0,941.2 770.8,943.6 771.7,944.4 772.5,953.5 773.4,943.0 774.2,946.3 775.1,949.1 775.9,944.4 776.7,935.4 777.6,944.3 778.4,941.8 779.3,937.3 780.1,942.6 781.0,949.9 781.8,935.3 782.7,939.6 783.5,948.2 784.4,944.4 785.2,948.7 786.1,940.6 786.9,944.6 787.8,938.1 788.6,940.7 789.5,945.4 790.3,943.8 791.2,946.9 792.0,935.7 792.8,944.9 793.7,949.7 794.5,935.3 795.4,946.3 796.2,951.3 797.1,944.2 797.9,952.1 798.8,947.0 799.6,943.0 800.5,948.2 801.3,946.1 802.2,950.0 803.0,938.1 803.9,950.8 804.7,943.9 805.6,938.8 806.4,942.7 807.3,946.7 808.1,941.3 808.9,953.6 809.8,946.0 810.6,941.6 811.5,942.4 812.3,947.3 813.2,953.9 814.0,939.8 814.9,943.4 815.7,938.7 816.6,941.0 817.4,945.7 818.3,942.8 819.1,947.7 820.0,940.8 820.8,941.0 821.7,944.3 822.5,950.0 823.4,947.1 824.2,945.8 825.0,950.0 825.9,941.4 826.7,939.8 827.6,944.7 828.4,950.4 829.3,943.6 830.1,942.1 831.0,945.7 831.8,945.1 832.7,941.4 833.5,944.6 834.4,939.5 835.2,944.1 836.1,941.5 836.9,945.3 837.8,938.6 838.6,952.9 839.5,946.9 840.3,946.4 841.1,953.5 842.0,948.8 842.8,948.3 843.7,942.6 844.5,940.5 845.4,950.1 846.2,937.6 847.1,947.3 847.9,953.3 848.8,944.7 849.6,949.1 850.5,941.2 851.3,938.3 852.2,938.7 853.0,951.9 853.9,947.6 854.7,935.0 855.6,940.7 856.4,941.1 857.2,939.2 858.1,945.7 858.9,942.1 859.8,951.5 860.6,937.9 861.5,939.3 862.3,947.8 863.2,941.0 864.0,941.5 864.9,943.1 865.7,948.1 866.6,944.1 867.4,937.2 868.3,941.7 869.1,947.5 870.0,941.0 870.8,945.1 871.6,946.7 872.5,946.9 873.3,943.9 874.2,936.3 875.0,940.0 875.9,940.2 876.7,952.9 877.6,948.8 878.4,940.7 879.3,943.6 880.1,942.0 881.0,945.4 881.8,947.8 882.7,939.5 883.5,936.7 884.4,938.6 885.2,947.2 886.1,943.7 886.9,935.9 887.7,944.1 888.6,949.5 889.4,938.4 890.3,940.4 891.1,936.6 892.0,946.7 892.8,945.1 893.7,945.8 894.5,946.9 895.4,945.3 896.2,943.0 897.1,944.8 897.9,948.8 898.8,947.0 899.6,945.2 900.5,943.1 901.3,949.8 902.2,950.6 903.0,941.7 903.8,944.3 904.7,948.5 905.5,940.2 906.4,946.0 907.2,948.4 908.1,947.4 908.9,936.4 909.8,943.6 910.6,949.8 911.5,945.9 912.3,941.8 913.2,948.8 914.0,940.1 914.9,945.7 915.7,938.7 916.6,937.6 917.4,947.8 918.3,941.0 919.1,940.9 919.9,953.4 920.8,943.3 921.6,947.9 922.5,939.4 923.3,939.5 924.2,943.2 925.0,940.0 925.9,946.2 926.7,941.4 927.6,946.2 928.4,943.5 929.3,946.7 930.1,941.3 931.0,952.4 931.8,945.8 932.7,943.7 933.5,945.1 934.4,945.2 935.2,937.4 936.0,947.0 936.9,948.1 937.7,949.9 938.6,944.2 939.4,943.1 940.3,940.5 941.1,940.8 942.0,948.0 942.8,942.7 943.7,946.9 944.5,946.7 945.4,942.5 946.2,950.8 947.1,943.6 947.9,942.0 948.8,949.3 949.6,949.8 950.5,950.1 951.3,944.1 952.1,947.3 953.0,950.2 953.8,945.9 954.7,944.7 955.5,946.9 956.4,943.1 957.2,946.6 958.1,944.5 958.9,944.1 959.8,945.2 960.6,943.5 961.5,946.9 962.3,942.9 963.2,935.5 964.0,946.6 964.9,943.0 965.7,941.5 966.6,941.2 967.4,947.7 968.2,949.8 969.1,944.4 969.9,949.8 970.8,941.5 971.6,943.7 972.5,947.8 973.3,940.2 974.2,952.3 975.0,943.6 975.9,951.0 976.7,942.6 977.6,939.0 978.4,946.8 979.3,949.8 980.1,936.5 981.0,948.0 981.8,947.5 982.7,942.9 983.5,944.3 984.3,940.7 985.2,936.6 986.0,942.1 986.9,937.8 987.7,945.3 988.6,943.2 989.4,946.3 990.3,946.2 991.1,950.5 992.0,947.0 992.8,941.1 993.7,946.4 994.5,952.0 995.4,947.1 996.2,940.4 997.1,937.1 997.9,941.9 998.8,945.9 999.6,947.6 1000.4,946.1 1001.3,943.5 1002.1,938.7 1003.0,942.1 1003.8,947.5 1004.7,939.7 1005.5,943.6 1006.4,953.6 1007.2,941.7 1008.1,944.4 1008.9,947.9 1009.8,944.3 1010.6,935.3 1011.5,951.1 1012.3,952.4 1013.2,937.7 1014.0,945.6 1014.9,945.9 1015.7,943.8 1016.5,944.6 1017.4,940.8 1018.2,942.8 1019.1,941.8 1019.9,945.5 1020.8,953.7 1021.6,949.2 1022.5,936.7 1023.3,941.7 1024.2,937.9 1025.0,943.4 1025.9,935.4 1026.7,948.0 1027.6,938.6 1028.4,938.7 1029.3,940.8 1030.1,953.2 1031.0,944.6 1031.8,938.0 1032.6,947.2 1033.5,939.1 1034.3,949.6 1035.2,950.4 1036.0,952.4 1036.9,938.0 1037.7,949.7 1038.6,941.9 1039.4,943.9 1040.3,951.1 1041.1,943.1 1042.0,940.1 1042.8,943.5 1043.7,945.8 1044.5,949.6 1045.4,936.5 1046.2,935.7 1047.1,949.6 1047.9,947.3 1048.7,953.3 1049.6,939.7 1050.4,936.5 1051.3,947.8 1052.1,935.3 1053.0,939.0 1053.8,949.3 1054.7,942.3 1055.5,941.9 1056.4,942.9 1057.2,947.2 1058.1,940.8 1058.9,945.4 1059.8,950.7 1060.6,950.7 1061.5,942.7 1062.3,947.6 1063.2,942.5 1064.0,938.0" fill="none" stroke="#1a1a1a" stroke-width="1.05"/><rect x="914" y="933.6" width="4" height="21.8" fill="#6a6a6a"/><rect x="956" y="933.6" width="4" height="21.8" fill="#6a6a6a"/></svg>
<svg style="left:0;top:0" width="1638" height="1030"><path d="M1346.2 799.9 L1337.11 941.06 A130.3 141.5 0 1 1 1476.50 799.90 Z" fill="#611868" stroke="#fff" stroke-opacity="0.75" stroke-width="0.9" stroke-linejoin="round"/><path d="M1346.2 799.9 L1476.50 799.90 A130.3 141.5 0 0 1 1424.43 913.06 Z" fill="#ad48c0" stroke="#fff" stroke-opacity="0.75" stroke-width="0.9" stroke-linejoin="round"/><path d="M1346.2 799.9 L1424.43 913.06 A130.3 141.5 0 0 1 1337.11 941.06 Z" fill="#5b70c6" stroke="#fff" stroke-opacity="0.75" stroke-width="0.9" stroke-linejoin="round"/><path d="M1243 681 L1256.3 695.7" stroke="#611868" stroke-width="0.9" fill="none"/><path d="M1461.5 859.5 L1480.3 871.7" stroke="#ad48c0" stroke-width="0.9" fill="none"/><path d="M1383 935.9 L1389.5 954.7" stroke="#5b70c6" stroke-width="0.9" fill="none"/></svg>
<div class="t" style="left:1137.50px;top:667.66px;font-size:16px;line-height:16px;color:#6a1f72;transform:scaleX(0.9658);">Switch 0.0.0.64</div>
<div class="t" style="left:1480.30px;top:858.96px;font-size:16px;line-height:16px;color:#b14fc4;transform:scaleX(0.9691);">Switch 0.0.0.112</div>
<div class="t" style="left:1389.50px;top:941.96px;font-size:16px;line-height:16px;color:#5b6fc6;transform:scaleX(0.9576);">Switch 0.0.0.96</div>
<div class="b" style="left:1608.00px;top:587.90px;width:4.00px;height:1.60px;background:#a0a0a0;"></div>
<div class="b" style="left:118.50px;top:588.00px;width:2.20px;height:1.40px;background:#c4c4c8;"></div>
<div class="b" style="left:1608.00px;top:646.90px;width:4.00px;height:1.60px;background:#d2d2d6;"></div>
<div class="b" style="left:118.50px;top:647.00px;width:2.20px;height:1.40px;background:#ececf0;"></div>
<div class="b" style="left:1608.00px;top:705.80px;width:4.00px;height:1.60px;background:#d2d2d6;"></div>
<div class="b" style="left:118.50px;top:705.90px;width:2.20px;height:1.40px;background:#ececf0;"></div>
<div class="b" style="left:1608.00px;top:764.80px;width:4.00px;height:1.60px;background:#d2d2d6;"></div>
<div class="b" style="left:118.50px;top:764.90px;width:2.20px;height:1.40px;background:#ececf0;"></div>
<div class="b" style="left:1608.00px;top:823.70px;width:4.00px;height:1.60px;background:#d2d2d6;"></div>
<div class="b" style="left:118.50px;top:823.80px;width:2.20px;height:1.40px;background:#ececf0;"></div>
<div class="b" style="left:1608.00px;top:881.80px;width:4.00px;height:1.60px;background:#d2d2d6;"></div>
<div class="b" style="left:118.50px;top:881.90px;width:2.20px;height:1.40px;background:#ececf0;"></div>
<div class="b" style="left:1608.00px;top:940.80px;width:4.00px;height:1.60px;background:#d2d2d6;"></div>
<div class="b" style="left:118.50px;top:940.90px;width:2.20px;height:1.40px;background:#ececf0;"></div>
<div class="b" style="left:1608.00px;top:999.20px;width:4.00px;height:1.60px;background:#d2d2d6;"></div>
<div class="b" style="left:118.50px;top:999.30px;width:2.20px;height:1.40px;background:#ececf0;"></div>
</body></html>
